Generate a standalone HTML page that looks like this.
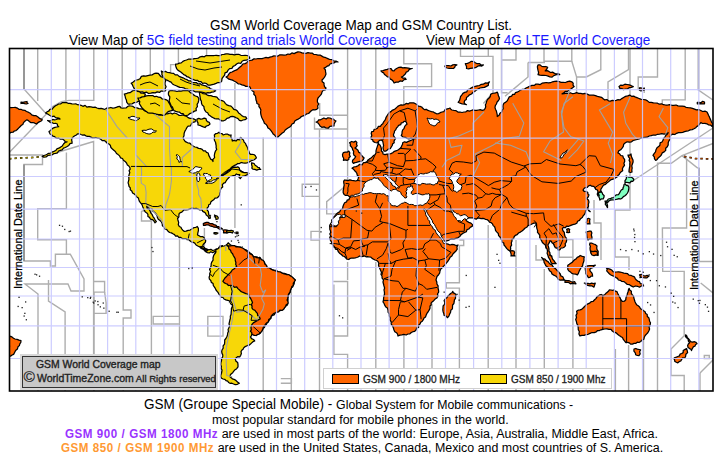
<!DOCTYPE html>
<html><head><meta charset="utf-8"><style>
html,body{margin:0;padding:0;background:#fff;}
body{width:725px;height:457px;position:relative;overflow:hidden;font-family:"Liberation Sans",sans-serif;}
.t{position:absolute;white-space:nowrap;font-size:13.5px;color:#000;line-height:15px;}
.b{color:#1a1aff;}
.hy{transform:scaleY(1.1);transform-origin:0 12px;}
.lg{position:absolute;background:#c8c8c8;border:1px solid #333;box-shadow:0 0 0 2px #d8d8d8;}
.lg2{position:absolute;background:#fff;border:1px solid #d0d0d0;}
.sw{position:absolute;border:1px solid #000;}
.s{position:absolute;white-space:nowrap;color:#222;line-height:12px;}
.dl{position:absolute;white-space:nowrap;font-size:11px;line-height:12px;color:#000;transform-origin:0 0;}
</style></head><body>
<svg width="725" height="457" viewBox="0 0 725 457" style="position:absolute;left:0;top:0">
<defs><clipPath id="mc"><rect x="9" y="48" width="704" height="343"/></clipPath></defs>
<g clip-path="url(#mc)">
<rect x="9" y="48" width="704" height="343" fill="#fff"/>
<g stroke="#AEAEAE" stroke-width="1.4" fill="none"><path d="M713,143.4 L682,155.6 L671.3,163.3 L657.5,163.3 L657.5,391"/><path d="M682,155.6 L697.3,167.9 L698.9,167.9 L698.9,261.5 L713,261.5"/><path d="M686.6,158.7 L686.6,228 L662.4,228 L662.7,271.4 L684.2,271.4 L684.2,335.8 L671,349 L671,375.5 L684.2,375.5 L684.2,391"/><path d="M700.7,283 L713,292.9"/><path d="M403.8,48 L403.8,63.7 L431.6,63.7 L431.6,86.6 L403.8,86.6 L403.8,106"/><path d="M460.5,48 L460.5,56.4 L488.3,56.4 L488.3,48"/><path d="M488.3,56.4 L493,56.4 L493,92.7 L483.4,103.5"/><path d="M501.5,48 L501.5,92.7 L507.6,92.7"/><path d="M516,48 L516,60 L501.5,60"/><path d="M528,62.5 L545,62.5 M528,62.5 L528,77 L505,96.3"/><path d="M544,48 L544,61.3 L571.8,61.3 L571.8,48"/><path d="M571.8,61.3 L576.6,77 L576.6,93.9"/><path d="M576.6,77 L586.3,77 L600.8,69.7 L600.8,48"/><path d="M628.5,48 L628.5,69.7 L608,81.8 L608,101"/><path d="M657.5,48 L657.5,77 L638.2,77 L638.2,89 L644.2,89 L644.2,93"/><path d="M685.2,48 L685.2,99.9 L662.3,99.9 L662.3,106"/><path d="M698.5,48 L698.5,90.2 L713,100"/><path d="M24,48 L24,89 L46.4,114 L9,152.7"/><path d="M9,155 L42.5,155 L42.5,164.5 L24,164.5 L24,261 L50.4,261 L50.4,266 L55.4,266 L55.4,254.2 L70.3,254.2 L84,279 L84,291 L71,291 L68,284 L25,284 L38,294 L38,391"/><path d="M37.7,48 L37.7,101"/><path d="M46.4,114 L52.6,106.6 L61.4,101.6 L68.9,100.4 L93.8,100.4 L93.8,48"/><path d="M65.9,48 L65.9,100.4"/><path d="M42,157 L93.6,141.5 L93.6,391"/><path d="M66.4,152.5 L66.4,208.6 L37.7,208.6 L37.7,239.8 L66.4,239.8 L66.4,254.2"/><path d="M48.5,280 L48.5,301.2 L65.1,311.9 L65.1,391"/><path d="M94,281.5 L104.6,281.5 L104.6,292.1 L94,292.1 L94,391"/><path d="M104.6,292.1 L106.1,302.8 L106.1,313.4 L94,313.4"/><path d="M178.9,316.4 L153.2,316.4 L153.2,324 L178.9,324"/><path d="M207.8,316.4 L223,316.4 L223,336.1 L207.8,336.1 Z"/><path d="M122.2,48 L122.2,107"/><path d="M123.2,160 L123.2,310 L131,310 L131,318 L123.2,318 L123.2,391"/><path d="M150.3,48 L150.3,75"/><path d="M178.4,48 L178.4,64.6 L170.6,64.6 L170.6,72"/><path d="M141.5,211 L151.4,211 L151.4,391"/><path d="M141.5,211 L141.5,221 L151.4,221"/><path d="M179.5,236 L179.5,391"/><path d="M204.4,228 L204.4,246"/><path d="M206.6,48 L206.6,55"/><path d="M234.9,48 L234.9,55"/><path d="M234.9,83 L234.9,228"/><path d="M263.2,137.4 L263.2,391"/><path d="M291.3,120.8 L291.3,391"/><path d="M319.7,102.9 L319.7,115.3 L347.6,115.3"/><path d="M314.5,117.5 L314.5,129 L347.6,129"/><path d="M347.6,48 L347.6,184.2 L326.7,201.7 L326.7,213.9 L338.9,213.9"/><path d="M319.5,129 L319.5,391"/><path d="M319.5,184.2 L302.2,184.2 L302.2,196.4 L319.5,196.4"/><path d="M319.5,231.4 L311,231.4 L311,240.1 L319.5,240.1"/><path d="M333.3,281.5 L347.6,281.5 L347.6,336 L333.9,336"/><path d="M333.9,284.6 L333.9,354.4 L347.6,354.4 L347.6,391"/><path d="M280.8,378.6 L291.4,378.6 L291.4,383.2 L280.8,383.2"/><path d="M347.6,262 L347.6,280"/><path d="M375.8,48 L375.8,128"/><path d="M375.8,262 L375.8,391"/><path d="M403.9,335 L403.9,391"/><path d="M432,303.5 L432,391"/><path d="M459.4,245.5 L459.4,282.7 L446.3,282.7 L446.3,288.1 L459.4,288.1 L459.4,391"/><path d="M459.4,240 L463.7,240 L463.7,245.5 L459.4,245.5"/><path d="M488.2,225 L488.2,391"/><path d="M516,240 L516,391"/><path d="M544.3,269 L544.3,391"/><path d="M536,245 L536,260 L544.2,260"/><path d="M559.1,228 L559.1,257.3 L572.9,257.3 L572.9,391"/><path d="M559.1,239.6 L572.9,239.6 L572.9,257.3"/><path d="M713,128 L626.6,185"/><path d="M594,200 L594,223 L601,223 L601,260"/><path d="M615,210 L630,210 L630,48"/><path d="M615,210 L615,257 L629,257 L629,270"/><path d="M615.4,349 L615.4,391"/><path d="M628.6,345 L628.6,391"/><path d="M643.5,330 L643.5,391"/><path d="M704.3,355.5 L709.3,355.5 L709.3,358.5 L704.3,358.5 Z"/><path d="M700,373 L713,360"/><path d="M700,373 L700,391"/></g>
<path d="M24,48 L24,89 M24,164.5 L24,261 M698.5,48 L698.5,90.2 M698.9,167.9 L698.9,261.5" stroke="#888" stroke-width="1.5" fill="none"/>
<g stroke="#000" stroke-width="1.25" stroke-linejoin="round"><path d="M45.6,112.9 L47.2,111.8 L49.0,110.9 L49.9,109.3 L52.0,109.4 L53.0,108.0 L54.2,106.8 L55.5,105.8 L57.0,105.0 L58.6,104.0 L60.5,103.9 L62.1,102.7 L64.0,102.6 L66.1,102.4 L68.0,103.3 L70.0,103.4 L72.0,103.9 L74.0,104.0 L75.8,103.8 L77.5,104.7 L79.3,104.8 L81.0,105.3 L82.9,106.3 L85.1,105.4 L86.9,107.1 L89.0,106.7 L91.0,106.9 L93.0,107.4 L95.1,107.2 L97.0,108.0 L98.9,108.7 L101.1,108.3 L103.0,108.9 L105.0,109.5 L106.7,108.1 L109.0,108.0 L110.8,107.5 L112.7,108.2 L114.5,107.9 L116.3,107.3 L118.0,106.7 L119.8,106.3 L121.1,108.0 L122.8,108.2 L124.5,108.0 L126.2,107.9 L127.6,106.5 L129.2,105.9 L131.0,106.0 L133.0,106.4 L134.8,107.7 L137.0,107.8 L138.9,108.6 L141.0,108.8 L142.7,109.1 L144.0,110.2 L145.4,111.2 L147.0,111.6 L148.6,112.3 L150.3,112.5 L152.0,112.2 L153.9,112.5 L155.3,114.1 L157.4,113.9 L159.0,115.0 L160.7,115.2 L162.2,114.6 L163.8,114.3 L165.4,113.5 L167.3,113.8 L169.0,113.4 L170.7,113.0 L172.3,114.0 L174.3,113.0 L176.0,113.5 L177.6,114.3 L179.2,115.4 L181.0,115.5 L182.9,114.8 L184.5,115.7 L186.5,116.2 L188.1,117.6 L190.0,118.4 L192.1,118.4 L194.1,119.2 L196.0,120.0 L194.9,121.8 L192.7,122.4 L191.4,124.0 L190.5,125.8 L188.1,126.2 L186.8,127.7 L185.9,129.5 L184.8,131.4 L184.1,133.5 L184.0,135.8 L183.1,137.8 L183.8,139.3 L184.6,140.8 L185.9,141.9 L187.7,142.8 L189.9,143.2 L191.4,144.7 L193.1,146.0 L195.0,147.0 L196.9,147.4 L198.5,148.4 L200.4,148.7 L202.2,149.4 L203.4,150.9 L205.4,150.8 L206.5,152.4 L208.2,153.0 L208.7,155.1 L209.7,157.1 L210.6,159.1 L212.2,159.9 L213.0,161.5 L212.9,159.4 L214.6,157.6 L214.3,155.5 L214.7,153.3 L215.4,151.2 L216.7,149.4 L216.1,147.7 L216.2,145.8 L215.8,144.0 L215.5,142.2 L214.5,140.5 L214.2,138.7 L214.6,136.8 L214.3,135.0 L215.6,133.7 L217.5,133.3 L219.0,132.2 L220.1,133.5 L222.1,133.6 L223.1,135.0 L224.6,134.5 L226.0,134.0 L227.7,134.2 L229.3,135.1 L231.1,135.0 L230.8,137.1 L232.0,139.0 L232.3,141.0 L234.0,140.3 L236.0,141.0 L237.6,139.4 L239.5,139.8 L239.9,138.5 L240.7,137.4 L242.0,138.8 L243.5,140.1 L244.1,142.1 L245.5,143.4 L246.3,145.4 L247.4,147.3 L247.9,149.4 L248.8,151.0 L249.3,152.8 L250.4,154.3 L252.1,154.4 L253.8,154.5 L255.2,155.5 L255.9,156.7 L256.4,157.9 L254.8,159.4 L252.8,160.2 L250.8,161.0 L248.9,162.2 L247.0,162.9 L245.0,163.2 L243.0,162.9 L241.2,162.5 L239.5,163.6 L237.7,163.5 L236.3,164.7 L234.6,165.3 L233.1,166.2 L231.8,167.1 L230.7,168.1 L229.8,169.4 L227.9,170.4 L226.6,172.1 L224.9,173.5 L222.9,174.5 L221.0,175.5 L222.0,176.2 L223.6,174.9 L225.5,173.9 L227.3,172.8 L229.0,171.5 L230.5,170.3 L231.3,168.4 L233.1,167.5 L234.6,167.1 L236.2,167.3 L237.7,166.8 L239.3,168.1 L239.7,170.1 L240.8,171.4 L242.3,172.1 L244.2,172.7 L246.2,172.7 L247.6,172.9 L248.9,173.4 L247.6,174.7 L246.1,175.2 L244.6,175.9 L243.0,176.0 L241.4,177.0 L240.3,178.6 L239.0,177.3 L239.3,176.0 L239.7,174.7 L238.0,174.7 L236.4,174.0 L235.1,175.3 L233.4,175.5 L231.8,176.0 L229.8,176.5 L228.5,178.0 L227.2,179.4 L226.1,181.0 L225.2,182.6 L223.7,183.2 L222.3,184.6 L222.7,186.9 L221.1,188.2 L220.4,189.9 L220.4,191.7 L219.7,193.2 L219.6,195.0 L218.7,196.5 L217.2,197.8 L215.0,198.2 L213.7,199.8 L212.2,200.8 L210.8,201.9 L210.4,204.0 L208.7,204.8 L208.5,206.6 L207.2,208.0 L207.1,209.8 L208.3,211.3 L208.6,213.0 L208.7,214.8 L210.1,216.2 L210.4,218.1 L209.0,218.5 L208.2,216.4 L206.3,215.1 L205.4,213.1 L204.2,212.1 L202.7,211.4 L202.1,209.8 L200.0,210.0 L198.1,209.1 L196.2,208.3 L194.1,208.7 L192.1,208.1 L190.1,208.8 L188.1,209.6 L186.0,210.0 L183.8,209.8 L182.6,211.4 L181.1,212.4 L179.3,213.2 L178.9,215.0 L178.9,216.9 L177.6,218.5 L178.0,220.5 L178.7,222.4 L178.3,224.6 L179.3,226.5 L180.9,227.3 L181.7,228.9 L182.8,230.2 L184.1,231.3 L186.1,231.1 L188.1,230.4 L190.1,230.1 L191.9,228.9 L193.7,227.7 L195.6,227.5 L197.3,226.5 L198.4,228.4 L198.4,230.6 L197.9,232.7 L197.5,234.9 L199.1,235.7 L200.6,236.7 L202.6,236.5 L204.1,237.7 L204.7,239.1 L205.7,240.3 L205.5,242.0 L204.4,243.3 L203.2,244.5 L202.7,246.2 L204.2,247.0 L205.2,248.5 L206.9,249.1 L208.7,249.8 L210.9,249.3 L212.6,250.5 L214.5,250.0 L216.2,248.9 L218.3,249.1 L219.0,247.3 L220.2,245.7 L221.4,246.2 L222.6,245.7 L221.3,247.3 L219.3,248.0 L217.8,249.3 L216.4,251.1 L214.2,251.7 L212.7,252.7 L210.8,251.8 L209.3,252.9 L207.4,252.6 L205.9,251.7 L204.5,250.5 L203.3,248.8 L201.1,248.3 L199.7,246.9 L197.8,246.0 L196.1,245.0 L194.9,243.3 L193.4,242.4 L191.6,242.1 L190.2,241.0 L188.9,239.7 L187.2,239.7 L185.8,238.5 L184.1,238.5 L182.3,238.5 L180.7,237.4 L178.9,237.4 L177.5,235.9 L175.6,236.1 L174.5,234.6 L172.9,233.8 L171.4,232.9 L169.6,232.5 L168.0,231.2 L166.8,229.6 L164.8,228.9 L164.0,227.1 L162.4,225.8 L162.2,223.7 L161.4,221.9 L160.0,220.5 L158.3,219.3 L157.4,217.5 L157.0,215.4 L155.9,213.8 L154.5,212.3 L152.8,211.0 L152.2,209.1 L150.2,208.5 L148.4,207.7 L146.7,206.4 L147.2,208.5 L149.2,209.5 L150.2,211.3 L150.9,213.2 L152.2,214.7 L153.0,216.6 L154.2,218.2 L155.2,220.0 L156.4,221.6 L155.0,222.9 L154.0,221.1 L152.7,219.7 L150.5,219.2 L149.5,217.4 L147.9,216.5 L147.9,214.3 L146.8,212.9 L145.3,211.9 L144.2,210.2 L143.4,208.3 L142.6,206.4 L142.0,204.6 L140.8,203.1 L139.6,201.7 L138.9,199.9 L138.4,198.1 L136.8,196.9 L135.7,195.3 L134.3,194.0 L132.6,192.9 L131.8,191.0 L130.2,189.8 L130.3,187.9 L129.0,186.4 L128.7,184.6 L128.1,182.9 L128.5,181.2 L128.9,179.5 L128.8,177.7 L128.8,176.0 L129.2,174.3 L129.8,172.6 L129.1,170.7 L130.2,169.1 L129.8,167.4 L128.8,166.0 L127.4,165.0 L126.5,163.0 L125.1,161.4 L123.4,160.3 L122.5,158.5 L120.5,157.8 L119.6,155.9 L118.1,154.6 L116.5,153.5 L115.5,151.7 L114.1,150.4 L112.4,149.0 L110.9,147.5 L110.3,145.2 L108.6,143.8 L106.9,143.0 L105.7,141.5 L104.1,140.5 L102.2,140.6 L100.8,139.3 L99.3,138.4 L97.5,138.2 L95.9,137.5 L94.2,137.9 L92.5,137.9 L90.9,137.1 L89.3,136.4 L87.5,136.3 L85.8,135.8 L84.3,134.9 L82.6,135.1 L81.0,134.5 L79.4,133.8 L77.7,133.8 L76.4,135.0 L74.8,135.8 L73.3,136.8 L72.1,138.2 L71.6,139.9 L72.0,141.5 L72.1,143.2 L70.0,143.7 L68.8,145.4 L67.1,146.5 L65.4,147.5 L63.5,148.2 L62.2,149.9 L60.4,150.4 L58.6,151.0 L57.4,152.8 L55.6,153.3 L53.7,153.7 L52.2,154.8 L50.0,155.1 L47.9,155.5 L46.1,156.9 L43.9,157.2 L42.2,156.4 L43.8,155.5 L45.5,155.0 L47.1,154.3 L48.6,153.3 L50.5,153.2 L52.1,152.1 L53.9,151.4 L55.7,150.5 L56.9,148.9 L58.8,148.2 L60.6,147.1 L62.3,145.9 L63.5,144.0 L65.0,142.5 L67.1,141.8 L65.2,141.5 L63.9,140.1 L62.4,139.1 L60.4,139.1 L58.8,138.2 L57.3,138.3 L55.9,137.8 L54.6,136.7 L53.0,136.2 L51.8,135.0 L50.3,134.3 L49.6,133.0 L49.0,131.6 L50.5,130.5 L51.7,129.2 L53.1,128.1 L54.9,127.4 L56.8,127.0 L58.7,126.7 L57.5,125.6 L57.3,124.0 L55.7,123.3 L53.8,123.5 L52.2,122.7 L50.4,122.6 L49.1,121.5 L47.6,120.5 L49.4,120.9 L51.1,120.6 L52.7,119.4 L54.5,119.8 L56.3,119.5 L58.1,118.6 L60.0,119.1 L58.8,118.1 L57.3,117.8 L55.5,117.7 L54.1,116.1 L52.0,116.6 L50.4,115.7 L48.8,114.8 L47.2,113.8Z" fill="#F7D708"/><path d="M175.6,64.2 L177.6,64.0 L179.3,63.1 L181.3,62.9 L182.9,61.4 L184.7,60.5 L186.5,60.0 L188.3,59.2 L190.4,59.2 L192.4,59.1 L194.4,58.7 L196.4,58.5 L198.4,58.1 L200.2,56.8 L202.2,56.3 L204.3,56.8 L206.1,55.5 L208.2,55.6 L210.2,55.5 L212.2,55.5 L214.2,55.5 L216.2,55.3 L218.2,55.7 L220.1,55.6 L222.1,54.5 L224.0,54.4 L226.0,53.8 L228.0,53.9 L230.0,54.3 L232.2,54.4 L234.3,54.8 L236.5,54.4 L238.7,54.3 L240.8,55.3 L243.0,55.5 L245.1,55.4 L247.3,55.5 L248.9,56.4 L249.8,58.0 L248.2,59.3 L246.3,60.2 L244.0,60.3 L242.1,61.2 L240.9,63.3 L238.4,63.0 L236.6,64.0 L235.0,65.5 L233.1,66.4 L231.9,68.3 L229.6,68.6 L228.1,70.1 L227.0,72.1 L225.0,72.9 L224.6,75.2 L223.2,76.9 L222.0,78.7 L221.7,81.1 L220.1,82.7 L218.0,82.5 L216.1,83.4 L214.2,84.2 L212.2,84.7 L210.2,85.2 L208.2,85.2 L206.6,83.6 L204.7,83.0 L202.5,83.4 L201.0,81.7 L199.0,81.7 L197.4,80.3 L195.3,80.3 L193.6,79.7 L191.8,79.0 L190.2,78.2 L188.7,77.2 L186.8,76.7 L185.5,75.3 L183.7,74.7 L182.5,73.4 L181.1,72.3 L179.6,71.3 L178.1,70.4 L177.0,69.1 L176.2,67.6 L175.7,65.9Z" fill="#F7D708"/><path d="M161.3,71.0 L163.2,72.0 L165.5,71.3 L167.4,72.5 L169.5,72.7 L171.5,73.1 L173.6,73.4 L175.2,74.9 L177.5,74.9 L179.1,76.4 L181.0,77.1 L183.0,77.8 L184.8,78.8 L186.8,79.5 L188.5,80.8 L190.6,80.8 L192.2,82.5 L194.2,82.7 L196.3,82.5 L198.0,84.0 L200.2,83.7 L201.9,84.9 L203.8,85.4 L205.8,85.8 L207.3,87.0 L209.2,87.3 L210.4,88.9 L212.3,89.4 L214.1,89.8 L215.7,90.7 L213.9,91.8 L211.8,92.1 L209.9,92.8 L207.8,92.7 L205.8,93.3 L203.8,92.5 L201.6,92.2 L199.4,92.0 L197.3,91.9 L195.1,91.8 L193.1,90.6 L190.9,90.7 L189.1,89.8 L187.3,89.2 L185.4,88.8 L183.7,87.8 L181.8,87.5 L179.8,87.4 L178.0,86.6 L176.2,85.8 L174.3,85.0 L172.5,84.0 L171.1,82.1 L169.2,81.3 L167.4,80.4 L165.4,79.5 L163.7,78.4 L163.1,76.6 L161.9,74.9 L161.9,72.9Z" fill="#F7D708"/><path d="M131.1,83.2 L132.9,82.3 L134.5,80.9 L136.4,80.0 L138.6,79.6 L140.3,78.4 L141.4,76.3 L143.5,75.8 L145.7,76.1 L147.8,75.6 L149.9,75.2 L152.0,74.9 L154.0,73.7 L156.1,73.2 L158.3,73.4 L159.6,75.0 L160.9,76.7 L163.2,77.4 L164.7,78.8 L165.7,80.8 L165.0,82.8 L165.1,84.7 L166.1,86.7 L165.2,88.6 L165.7,90.6 L163.6,91.3 L161.4,90.8 L159.5,92.4 L157.2,91.9 L155.2,92.9 L153.0,92.6 L150.9,93.2 L148.6,93.5 L146.7,92.2 L144.4,92.7 L142.4,91.8 L140.1,92.0 L138.1,91.1 L136.0,90.6 L134.6,89.4 L133.8,87.8 L133.0,86.2 L132.3,84.5Z" fill="#F7D708"/><path d="M124.3,94.1 L126.2,93.7 L128.0,92.9 L130.0,92.7 L131.7,91.4 L133.4,90.4 L135.4,90.3 L137.3,91.3 L139.4,91.6 L141.1,93.2 L143.4,93.2 L145.3,94.1 L144.9,96.0 L143.5,97.2 L141.7,98.2 L141.3,100.0 L140.3,101.5 L138.2,101.4 L136.2,102.5 L134.1,102.6 L132.2,103.8 L130.1,104.0 L128.0,104.0 L126.7,102.2 L126.4,100.1 L125.5,98.2 L125.1,96.0Z" fill="#F7D708"/><path d="M137.9,98.0 L140.1,97.9 L142.1,96.9 L144.2,96.6 L146.3,95.9 L148.4,95.7 L150.6,95.7 L152.8,95.5 L154.5,96.7 L156.6,96.3 L158.4,97.2 L160.4,97.3 L162.0,98.8 L163.9,99.1 L165.8,99.6 L167.6,100.5 L168.7,102.4 L169.9,104.3 L170.7,106.3 L171.9,108.1 L172.5,110.3 L170.7,110.8 L168.9,111.4 L167.3,112.3 L166.1,113.8 L164.7,115.1 L162.7,115.3 L160.7,114.5 L158.5,114.6 L156.4,114.2 L154.3,113.6 L152.2,113.1 L150.0,113.1 L147.9,112.8 L146.3,111.4 L144.5,110.2 L142.9,108.8 L141.5,107.2 L140.4,105.4 L139.3,103.7 L139.8,101.5 L138.6,99.8Z" fill="#F7D708"/><path d="M169.1,91.0 L171.1,90.3 L173.1,90.7 L175.0,90.9 L177.0,91.5 L179.0,90.9 L181.0,91.1 L183.0,90.6 L184.9,90.7 L186.9,90.4 L188.9,91.0 L190.3,92.6 L192.2,93.4 L193.6,94.9 L195.4,96.0 L197.5,96.6 L198.8,98.3 L198.7,100.4 L198.2,102.5 L197.1,104.4 L197.4,106.6 L196.0,108.5 L196.3,110.7 L194.5,111.1 L192.9,112.1 L191.3,113.1 L189.6,113.7 L188.2,115.0 L186.4,115.6 L184.4,115.5 L183.1,113.7 L181.1,113.6 L179.6,112.2 L177.7,111.8 L175.8,111.3 L174.0,110.7 L173.1,109.1 L172.6,107.3 L171.2,105.9 L170.5,104.2 L169.7,102.6 L169.1,100.8 L169.6,98.8 L169.8,96.9 L168.5,94.9 L168.4,93.0Z" fill="#F7D708"/><path d="M199.3,92.2 L201.3,92.5 L203.1,93.6 L205.1,93.8 L206.9,94.8 L208.8,95.6 L210.9,95.7 L212.8,96.3 L214.8,96.6 L216.9,97.2 L218.3,98.9 L220.0,100.1 L222.1,100.6 L224.0,101.5 L225.3,103.4 L226.8,104.9 L228.8,105.6 L231.0,106.1 L232.5,107.6 L233.8,109.3 L235.8,109.8 L237.4,111.1 L238.6,112.9 L240.2,114.1 L241.6,115.4 L243.3,116.6 L245.7,116.8 L246.8,118.6 L245.1,119.7 L243.1,120.0 L241.3,120.8 L239.4,120.3 L238.0,118.6 L236.2,117.8 L234.4,116.9 L232.5,116.4 L230.4,116.7 L228.8,117.9 L226.9,118.4 L225.4,120.0 L223.6,120.8 L221.7,120.9 L220.1,119.9 L218.5,118.8 L216.6,118.9 L214.8,118.6 L213.2,117.7 L211.5,116.9 L210.1,115.7 L208.6,114.7 L207.7,112.8 L206.0,112.0 L204.9,110.4 L204.1,108.5 L203.9,106.4 L202.2,105.1 L201.5,103.2 L201.4,101.3 L200.5,99.6 L200.2,97.7 L199.9,95.9 L199.6,94.0Z" fill="#F7D708"/><path d="M197.0,119.0 L198.8,118.3 L200.6,119.1 L202.4,118.8 L204.2,118.1 L206.0,118.6 L206.4,120.4 L207.4,121.7 L209.3,122.4 L210.0,124.0 L208.5,125.4 L206.4,126.0 L205.0,127.5 L203.3,126.9 L201.5,126.2 L199.9,125.3 L198.0,125.0 L198.0,122.9 L197.0,121.1Z" fill="#F7D708"/><path d="M251.5,162.9 L252.8,163.2 L254.1,163.5 L255.1,165.2 L256.7,166.2 L257.8,167.4 L259.4,167.5 L259.6,168.8 L260.7,169.4 L258.6,169.3 L256.7,170.1 L254.8,169.4 L252.8,169.1 L251.8,168.1 L252.2,166.8 L251.7,164.9Z" fill="#F7D708"/><path d="M216.0,249.7 L217.5,249.0 L218.9,248.0 L220.2,246.9 L222.0,246.3 L223.9,246.0 L225.7,245.5 L227.1,244.2 L228.4,242.8 L229.5,244.1 L230.8,245.2 L232.6,245.5 L234.3,246.4 L236.3,246.4 L238.1,246.9 L240.1,247.0 L241.5,248.5 L243.0,249.7 L245.0,249.7 L246.6,250.2 L248.0,251.0 L249.1,252.4 L250.8,253.5 L252.3,254.8 L253.3,256.6 L255.0,256.9 L256.8,256.8 L258.4,258.1 L260.2,257.9 L261.1,259.7 L262.5,261.1 L264.3,262.1 L265.2,264.0 L266.2,265.7 L267.1,267.6 L268.7,268.5 L270.6,268.8 L272.2,269.7 L274.0,270.3 L276.3,270.4 L278.1,271.8 L280.1,272.5 L282.2,273.1 L284.4,273.4 L286.5,274.0 L288.5,275.1 L290.5,275.9 L291.7,277.7 L293.2,279.2 L295.3,280.0 L294.3,281.7 L294.2,283.8 L293.3,285.5 L292.6,287.1 L290.9,288.2 L290.5,290.0 L290.2,292.2 L289.0,294.1 L288.2,296.1 L287.8,298.3 L288.1,300.1 L287.2,302.0 L287.8,303.8 L287.0,305.4 L285.1,306.1 L284.4,307.7 L283.6,309.3 L281.9,310.0 L280.1,310.6 L278.2,310.9 L276.7,312.1 L275.0,312.7 L274.4,314.7 L272.7,315.4 L271.2,316.2 L270.9,318.4 L269.4,319.9 L268.4,321.7 L267.1,322.9 L266.3,324.6 L265.0,325.8 L264.4,327.5 L262.9,328.6 L262.4,330.2 L261.3,331.5 L260.2,332.8 L259.0,334.0 L257.2,334.3 L256.0,335.5 L254.1,334.4 L251.9,334.1 L251.5,335.6 L250.5,336.9 L251.5,338.6 L253.5,339.5 L254.7,341.0 L253.0,341.7 L251.7,342.9 L250.5,344.1 L249.1,345.2 L247.1,345.7 L245.2,346.6 L243.6,347.9 L243.1,349.2 L242.0,350.0 L241.0,351.6 L241.4,353.6 L240.7,355.3 L239.7,356.8 L237.6,356.7 L236.2,357.7 L235.3,359.3 L236.0,361.2 L237.7,362.6 L238.0,364.7 L238.0,366.9 L236.7,368.7 L235.1,369.7 L233.8,371.2 L232.7,372.7 L231.4,373.7 L230.3,375.0 L230.0,376.7 L231.2,377.7 L232.4,378.8 L234.0,379.3 L235.4,380.1 L236.7,381.2 L237.9,382.4 L239.3,383.3 L237.4,384.3 L235.3,384.7 L233.6,384.0 L231.9,383.2 L230.0,383.3 L228.6,382.5 L227.7,381.1 L226.0,380.7 L224.9,379.4 L223.1,379.0 L221.6,378.2 L220.7,376.7 L220.8,375.0 L221.5,373.4 L221.8,371.7 L222.0,370.0 L221.1,368.4 L221.4,366.4 L220.7,364.7 L220.9,362.6 L221.5,360.7 L221.6,358.6 L222.7,356.7 L222.8,355.0 L222.0,353.4 L221.7,351.7 L222.0,350.0 L223.2,348.2 L223.1,345.9 L224.5,344.1 L224.7,342.0 L224.7,340.0 L225.9,338.5 L226.8,336.8 L227.5,335.0 L227.7,333.1 L228.4,331.4 L228.1,329.5 L228.9,327.7 L229.7,325.9 L229.0,324.0 L229.4,322.1 L229.8,320.3 L230.4,318.3 L230.3,316.2 L231.1,314.2 L231.2,312.1 L231.4,310.4 L231.4,308.5 L232.2,306.9 L232.6,305.2 L231.1,304.2 L230.2,302.7 L229.8,301.0 L227.8,300.4 L225.9,299.9 L224.0,299.0 L223.0,297.5 L221.0,297.2 L220.2,295.5 L219.0,294.3 L218.2,292.7 L217.1,291.3 L216.0,290.0 L215.3,288.4 L214.3,286.9 L213.3,285.5 L213.1,283.5 L211.3,282.4 L210.8,280.5 L209.4,279.1 L209.1,277.2 L209.8,275.3 L209.7,273.4 L210.6,271.5 L209.6,269.4 L210.5,267.6 L211.1,265.7 L211.2,263.7 L211.9,261.8 L213.1,260.1 L213.0,258.0 L213.4,256.3 L214.0,254.8 L215.1,253.4 L216.0,252.0 L215.7,250.8Z" fill="#F7D708"/><path d="M227.0,230.4 L229.2,230.6 L231.4,230.3 L233.5,231.0 L233.0,232.0 L232.5,233.0 L230.7,232.3 L228.8,232.4 L227.0,233.0 L226.7,231.7Z" fill="#F7D708"/><path d="M214.5,215.0 L215.7,215.7 L217.0,216.0 L218.2,217.3 L218.0,219.0 L216.0,219.5 L215.8,217.9 L215.1,216.5Z" fill="#F7D708"/><path d="M214.0,232.5 L216.0,232.6 L218.0,233.0 L217.0,233.9 L215.5,234.1 L214.0,233.7Z" fill="#F7D708"/><path d="M226.0,77.0 L227.7,76.0 L228.8,74.2 L230.1,72.7 L232.0,72.0 L233.7,71.1 L235.4,70.3 L237.2,69.6 L238.6,68.3 L240.0,67.0 L241.6,65.7 L242.8,64.0 L245.0,63.6 L246.8,62.7 L248.0,61.0 L250.0,60.5 L252.0,60.1 L253.9,58.9 L256.0,59.0 L258.0,58.5 L260.0,58.6 L262.1,58.7 L264.0,58.0 L266.0,57.4 L268.1,57.8 L270.0,57.1 L272.0,56.7 L273.9,55.9 L276.0,56.0 L278.0,56.0 L279.9,54.8 L282.0,54.9 L284.1,55.2 L286.1,54.9 L288.0,54.0 L290.1,54.3 L291.9,52.9 L294.1,53.6 L296.0,52.6 L297.9,51.8 L300.0,52.0 L301.9,52.8 L303.9,53.1 L305.9,53.3 L308.0,52.6 L310.0,53.0 L312.1,53.0 L313.9,54.4 L315.9,54.5 L317.9,55.2 L320.0,55.0 L321.9,56.1 L323.7,57.2 L325.9,57.7 L327.8,58.6 L329.8,59.5 L332.0,59.6 L333.8,61.0 L336.0,61.1 L338.0,62.0 L335.8,61.8 L334.0,62.9 L331.9,63.3 L330.0,64.0 L328.9,65.6 L327.1,66.2 L325.7,67.3 L324.0,68.0 L325.4,69.8 L325.6,71.9 L326.0,74.0 L325.3,75.7 L324.5,77.3 L323.3,78.7 L322.0,80.0 L322.3,81.8 L324.0,83.0 L324.1,84.9 L324.5,86.7 L326.0,88.0 L325.2,89.9 L323.1,90.4 L322.0,92.0 L321.5,93.8 L320.4,95.3 L319.2,96.7 L318.0,98.0 L317.4,100.0 L317.4,102.0 L318.6,104.0 L317.6,106.0 L318.0,108.0 L316.7,109.4 L314.9,109.8 L312.9,109.7 L311.3,110.7 L310.0,112.0 L308.6,113.5 L306.6,113.9 L305.1,115.1 L303.2,115.8 L301.4,116.5 L300.0,118.0 L298.3,119.1 L296.4,119.9 L294.8,121.1 L293.9,123.2 L292.0,124.0 L291.1,125.8 L289.7,127.0 L288.0,128.0 L286.5,129.1 L285.0,130.3 L284.0,132.0 L282.3,133.0 L280.9,134.3 L279.4,135.6 L278.0,137.0 L276.0,137.0 L274.8,135.3 L273.2,134.1 L272.2,132.3 L271.0,130.7 L269.7,129.1 L268.0,128.0 L267.3,126.2 L266.2,124.5 L264.4,123.3 L263.8,121.5 L262.9,119.7 L262.0,118.0 L261.3,116.1 L260.8,114.1 L260.6,112.0 L260.9,109.9 L260.0,108.0 L258.9,106.6 L259.0,104.5 L256.9,103.5 L256.7,101.7 L256.0,100.0 L255.8,97.9 L255.4,95.9 L253.8,94.2 L254.0,92.0 L252.2,90.7 L250.8,89.1 L250.0,87.0 L248.0,86.3 L245.8,86.4 L244.0,85.3 L241.9,84.9 L240.0,84.0 L238.2,83.8 L236.9,82.7 L235.5,81.8 L234.0,81.0 L232.5,80.1 L230.7,79.6 L228.9,79.2 L227.5,78.0Z" fill="#FF6600"/><path d="M316.0,122.0 L317.6,121.5 L318.7,119.8 L320.5,119.8 L322.0,119.0 L323.9,118.0 L326.1,119.0 L327.9,117.8 L330.0,118.0 L331.5,118.8 L333.3,119.0 L334.5,120.3 L336.0,121.0 L334.9,122.5 L334.1,124.1 L334.0,126.0 L331.9,126.1 L329.9,126.4 L328.2,128.2 L326.0,128.0 L324.1,126.9 L321.8,127.3 L320.0,126.0 L319.1,124.3 L317.9,122.8Z" fill="#FF6600"/><path d="M380.9,70.9 L383.1,70.6 L385.1,69.9 L387.3,69.4 L389.3,68.5 L391.2,68.7 L392.3,70.6 L394.1,70.9 L395.4,69.2 L397.1,68.2 L399.0,67.3 L400.9,67.1 L402.7,67.9 L404.7,67.7 L406.6,67.8 L408.4,68.2 L410.3,68.7 L412.2,68.5 L410.4,69.0 L408.9,69.9 L407.9,71.5 L406.2,72.1 L405.5,73.8 L404.2,75.0 L403.0,76.2 L401.4,77.0 L402.8,78.1 L404.9,78.0 L406.2,79.4 L404.1,79.6 L402.4,81.3 L400.1,80.9 L398.2,82.2 L396.1,82.2 L394.1,83.0 L393.2,81.3 L391.9,79.9 L390.0,78.9 L389.3,77.0 L387.4,76.8 L386.0,75.6 L384.5,74.6 L383.7,72.9 L382.1,72.2Z" fill="#FF6600"/><path d="M444.8,66.1 L446.8,65.5 L448.8,65.7 L450.9,66.0 L452.8,64.9 L454.8,64.5 L456.9,64.9 L455.3,65.7 L454.6,67.4 L453.3,68.5 L451.2,68.4 L449.1,68.4 L447.0,68.0 L445.6,67.3Z" fill="#FF6600"/><path d="M465.3,63.7 L467.5,63.4 L469.5,62.5 L471.4,61.3 L473.5,61.5 L475.3,62.8 L477.2,63.7 L479.4,63.6 L481.2,65.0 L483.4,64.9 L481.8,66.1 L479.6,65.6 L477.8,66.2 L476.2,67.3 L474.3,67.9 L472.4,68.1 L470.4,68.4 L468.5,68.8 L466.5,68.5 L466.6,66.8 L466.0,65.2Z" fill="#FF6600"/><path d="M458.1,102.3 L459.4,100.7 L460.1,98.8 L460.5,96.7 L461.7,95.1 L462.9,93.4 L464.7,92.4 L466.8,91.8 L467.7,89.7 L469.8,89.1 L471.4,87.8 L473.3,86.9 L475.3,86.3 L477.3,85.8 L479.4,85.5 L481.3,84.3 L483.4,84.2 L485.2,82.9 L487.7,83.1 L489.5,81.8 L488.5,83.5 L488.3,85.4 L486.4,86.4 L484.4,87.4 L482.2,87.7 L480.0,88.0 L478.1,89.0 L476.2,90.2 L474.6,91.5 L472.8,92.5 L471.5,94.0 L469.5,94.8 L468.1,96.3 L466.5,97.5 L466.3,99.4 L464.7,100.6 L464.1,102.3 L464.9,103.9 L466.5,104.7 L464.4,104.1 L462.2,104.0 L460.1,103.2Z" fill="#FF6600"/><path d="M538.0,64.9 L540.1,64.9 L541.8,66.4 L543.7,66.7 L545.8,66.5 L547.7,67.3 L546.7,69.3 L545.2,70.9 L547.1,70.6 L548.9,71.4 L550.6,72.5 L552.5,72.1 L554.2,73.1 L555.9,74.0 L558.1,73.4 L559.7,74.6 L557.6,74.5 L555.7,75.0 L553.8,75.6 L552.1,77.1 L550.0,77.0 L548.1,76.1 L546.1,75.5 L544.1,75.4 L542.0,75.4 L540.0,75.2 L538.0,74.6 L538.6,72.7 L538.1,70.7 L537.7,68.8 L537.4,66.8Z" fill="#FF6600"/><path d="M618.9,86.6 L620.6,85.1 L623.0,85.3 L624.9,84.2 L627.1,84.5 L629.3,84.9 L631.3,85.7 L633.3,86.6 L631.3,87.5 L629.1,87.7 L627.3,89.0 L625.5,89.0 L623.6,89.6 L621.8,88.5 L620.0,89.0 L619.7,87.7Z" fill="#FF6600"/><path d="M639.4,87.8 L641.0,87.9 L642.6,88.5 L644.2,88.0 L644.3,89.1 L644.2,90.2 L642.6,90.4 L641.0,90.9 L639.4,90.2 L639.7,89.0Z" fill="#FF6600"/><path d="M697.3,102.3 L699.1,102.4 L700.9,102.8 L702.7,101.3 L704.5,102.0 L704.5,103.8 L702.7,103.9 L700.9,103.9 L699.1,103.9 L697.3,103.8Z" fill="#FF6600"/><path d="M349.6,142.7 L351.5,141.5 L353.8,142.1 L355.7,141.1 L356.9,142.4 L356.5,144.2 L357.2,145.7 L356.2,147.0 L354.9,148.0 L356.5,149.1 L358.0,150.3 L358.6,152.1 L360.4,153.1 L361.1,154.9 L362.6,156.5 L364.1,158.0 L363.2,159.8 L361.8,161.1 L359.9,161.3 L358.0,161.8 L356.4,162.3 L354.9,162.6 L353.4,163.4 L352.4,162.0 L352.6,160.3 L353.8,159.2 L354.9,157.9 L355.7,156.5 L354.0,155.3 L353.4,153.4 L353.7,151.4 L352.6,149.6 L352.3,148.0 L351.4,146.8 L350.3,145.7 L350.4,144.1Z" fill="#FF6600"/><path d="M343.4,152.6 L345.2,152.1 L347.2,152.2 L348.8,151.1 L349.8,152.8 L349.4,154.8 L350.3,156.5 L348.9,157.7 L348.8,159.5 L347.1,160.4 L345.2,159.8 L343.4,160.3 L343.7,158.3 L342.7,156.5 L342.5,154.5Z" fill="#FF6600"/><path d="M350.5,197.0 L348.9,196.3 L347.5,195.1 L345.6,195.4 L344.1,194.4 L343.2,192.7 L343.2,190.7 L343.6,188.8 L343.8,186.9 L344.2,185.0 L343.8,183.0 L343.7,181.1 L344.6,180.0 L346.0,180.1 L347.9,180.6 L349.9,179.8 L351.8,180.3 L353.7,180.6 L355.7,181.0 L357.6,180.3 L358.2,178.4 L358.7,176.5 L357.3,175.3 L356.9,173.5 L356.0,172.0 L354.7,170.7 L353.6,169.3 L352.0,168.3 L353.8,167.0 L356.0,166.6 L358.0,165.7 L359.7,164.3 L362.1,164.8 L363.5,162.7 L365.7,162.6 L367.1,161.5 L368.0,159.9 L369.5,158.9 L371.0,158.0 L372.2,156.9 L373.4,155.6 L375.0,154.9 L376.0,153.0 L376.0,150.9 L376.5,148.9 L377.2,146.9 L377.9,144.8 L378.6,142.8 L378.7,144.3 L380.0,145.0 L380.9,146.9 L381.4,148.9 L381.4,151.0 L382.8,152.2 L383.0,154.0 L385.0,154.7 L387.0,154.1 L389.0,154.0 L390.9,153.6 L392.7,152.7 L394.4,151.3 L396.5,150.7 L398.4,149.8 L400.0,148.6 L401.3,147.0 L401.8,145.6 L402.6,144.2 L402.7,142.7 L404.5,141.8 L406.6,142.4 L408.4,141.3 L410.2,140.7 L411.9,140.0 L413.6,139.3 L415.2,138.3 L417.0,137.7 L415.1,138.6 L413.0,138.5 L411.0,138.1 L409.0,138.9 L407.0,138.4 L405.2,137.3 L403.0,137.0 L401.3,135.6 L402.0,133.8 L402.1,131.8 L402.7,129.9 L404.0,128.6 L404.6,126.8 L405.5,125.3 L407.0,124.2 L406.5,122.7 L405.6,121.4 L404.0,121.4 L402.9,122.7 L401.3,122.8 L400.7,124.7 L398.6,125.3 L397.6,126.8 L396.4,128.2 L395.6,129.9 L394.5,131.1 L394.3,132.8 L393.5,134.2 L393.6,135.9 L394.5,137.2 L395.6,138.4 L394.8,139.7 L394.0,141.1 L394.2,142.7 L392.7,143.8 L392.2,145.5 L391.3,147.0 L390.3,148.6 L388.4,149.0 L387.0,150.2 L385.6,151.2 L384.2,151.2 L383.5,150.0 L383.0,147.8 L383.6,145.6 L383.2,143.5 L382.8,141.3 L381.4,140.0 L379.6,140.4 L378.4,141.5 L377.2,142.8 L375.0,142.5 L373.1,141.4 L372.7,139.9 L371.1,138.9 L371.0,137.2 L371.8,135.4 L371.2,133.5 L371.7,131.7 L373.5,131.4 L374.1,129.3 L375.9,129.0 L377.5,128.2 L378.3,126.4 L380.4,126.3 L381.4,124.8 L382.8,123.7 L383.5,122.1 L384.6,120.7 L385.5,119.3 L386.1,117.3 L387.2,115.5 L388.3,113.8 L389.4,112.4 L391.0,111.6 L392.1,110.3 L393.8,109.7 L395.3,108.8 L396.5,107.6 L397.8,106.4 L399.3,105.5 L401.0,104.8 L402.9,105.1 L404.7,104.6 L406.2,103.4 L408.1,103.9 L409.8,102.8 L411.7,102.8 L413.7,102.9 L415.5,103.7 L417.2,104.8 L418.3,106.1 L420.1,106.4 L421.7,107.0 L422.8,108.3 L424.3,109.6 L426.4,109.3 L427.9,110.4 L429.7,111.0 L431.5,111.6 L433.4,111.9 L434.9,112.9 L436.6,113.8 L438.5,113.6 L440.2,112.7 L442.0,112.0 L443.8,111.7 L444.9,109.8 L446.5,109.1 L448.4,108.7 L450.0,108.0 L450.8,109.2 L452.0,110.0 L454.0,110.4 L456.1,110.7 L457.9,112.0 L460.0,112.0 L462.0,112.5 L464.0,112.0 L465.9,111.8 L467.5,110.6 L469.5,111.1 L471.2,110.5 L473.0,109.9 L474.8,110.3 L476.7,110.3 L478.5,110.0 L480.3,109.7 L482.2,110.4 L484.0,109.9 L485.2,108.4 L485.7,106.8 L485.4,104.8 L486.2,103.2 L486.7,101.2 L487.5,99.5 L489.1,98.0 L490.3,96.5 L490.6,94.4 L492.2,93.5 L493.9,93.2 L495.6,92.8 L497.3,92.2 L498.0,93.8 L498.3,95.5 L499.1,97.1 L499.5,98.8 L498.5,100.5 L497.1,102.0 L496.4,104.0 L495.3,105.6 L495.0,107.7 L495.6,109.4 L496.4,111.1 L496.8,112.9 L497.2,114.6 L497.3,116.5 L499.1,115.3 L499.9,113.2 L501.7,112.0 L502.2,110.3 L503.2,108.6 L502.9,106.7 L503.1,104.9 L503.9,103.2 L505.8,102.1 L507.3,100.8 L508.3,98.8 L509.3,96.9 L511.6,96.2 L512.7,94.4 L514.5,94.3 L515.5,92.7 L517.1,92.2 L518.8,91.2 L520.5,90.1 L522.3,89.3 L524.4,89.2 L526.0,88.0 L528.0,87.1 L529.9,86.1 L531.9,85.4 L534.2,85.4 L536.0,84.0 L538.0,84.2 L540.2,84.6 L542.1,83.2 L544.2,82.8 L546.2,82.5 L548.4,82.9 L550.5,82.7 L552.5,81.8 L554.6,81.3 L556.8,81.2 L558.9,81.5 L561.1,82.3 L563.2,82.3 L565.4,82.5 L567.5,81.7 L569.7,81.1 L571.8,81.8 L573.2,83.1 L573.0,85.2 L574.2,86.6 L572.6,87.8 L571.0,89.1 L569.2,90.0 L567.6,91.3 L565.2,91.3 L563.9,92.9 L562.1,93.9 L564.2,93.7 L566.2,93.1 L568.3,93.4 L570.4,92.8 L572.5,93.7 L574.6,93.4 L576.6,92.7 L578.7,93.3 L580.8,93.4 L582.9,93.9 L585.1,93.3 L587.2,94.0 L589.2,95.1 L591.3,95.2 L593.5,95.1 L595.5,95.6 L597.4,96.4 L599.5,96.8 L601.5,97.3 L603.2,98.7 L604.8,99.9 L606.9,99.5 L608.5,100.9 L610.4,101.1 L612.3,100.4 L614.2,100.6 L616.2,100.4 L618.0,99.7 L620.0,99.9 L621.8,98.6 L623.6,97.5 L625.5,96.4 L627.7,95.9 L629.7,95.1 L631.5,96.3 L633.7,96.1 L635.6,97.2 L637.5,97.8 L639.4,98.7 L641.4,99.3 L643.5,99.5 L645.6,99.8 L647.5,100.9 L649.2,102.4 L651.4,102.3 L653.4,102.8 L655.4,103.0 L657.5,103.2 L659.4,104.2 L661.6,103.8 L663.5,104.7 L665.6,105.0 L667.6,105.0 L669.8,104.6 L671.8,105.4 L673.9,105.3 L676.0,105.0 L678.0,105.9 L680.1,106.2 L682.2,106.1 L684.3,106.3 L686.2,107.5 L688.3,107.7 L690.5,107.8 L692.5,108.3 L694.5,109.1 L696.5,109.9 L698.8,109.7 L700.8,110.5 L702.7,111.5 L705.0,111.1 L707.0,112.0 L707.8,113.6 L708.5,115.3 L709.4,116.9 L710.0,118.6 L710.9,120.4 L711.6,122.4 L713.0,124.0 L712.4,125.5 L713.0,127.0 L711.8,126.2 L710.8,125.2 L708.7,125.0 L706.9,123.8 L704.9,123.4 L702.7,123.5 L700.8,122.7 L699.6,124.0 L698.6,125.5 L697.0,126.4 L695.8,127.7 L694.0,128.7 L692.2,129.6 L690.2,129.9 L688.4,130.8 L686.5,131.1 L684.6,131.7 L682.7,132.3 L680.7,132.7 L678.5,132.6 L676.6,133.3 L674.8,134.5 L672.6,134.1 L670.7,135.2 L670.1,137.1 L670.1,139.2 L668.9,140.9 L668.2,142.8 L668.2,144.9 L667.3,146.7 L665.7,148.3 L665.7,150.4 L664.2,151.9 L662.2,152.9 L661.3,155.0 L659.9,156.6 L658.2,157.9 L657.2,159.4 L655.7,160.4 L654.5,158.9 L654.3,156.9 L653.0,155.4 L654.1,153.6 L655.5,151.9 L656.0,149.7 L657.0,147.8 L658.6,146.6 L659.9,145.2 L660.1,142.9 L662.0,142.0 L663.0,140.3 L663.5,138.4 L664.9,137.1 L665.7,135.4 L667.3,134.3 L668.2,132.7 L666.2,133.7 L664.1,134.1 L661.8,133.6 L659.7,134.1 L657.5,134.3 L655.5,135.2 L653.3,135.0 L651.3,135.7 L649.2,136.0 L647.2,137.2 L645.1,137.3 L643.0,137.7 L641.0,138.2 L639.1,139.0 L637.1,139.5 L635.2,140.0 L633.2,140.5 L631.5,141.8 L629.5,142.2 L627.2,141.8 L625.4,142.8 L623.7,144.2 L623.3,146.4 L622.1,148.2 L620.7,149.8 L618.7,150.9 L617.9,152.9 L619.6,153.8 L620.8,155.5 L622.8,155.9 L623.4,157.8 L624.6,159.4 L624.7,161.5 L623.9,163.3 L624.5,165.3 L623.2,167.0 L622.4,168.8 L622.7,170.8 L621.2,171.7 L620.0,172.9 L619.2,174.5 L617.9,175.6 L616.7,177.3 L614.9,178.3 L613.1,179.2 L611.3,179.6 L609.9,180.6 L608.5,181.8 L607.1,182.8 L605.5,184.4 L603.5,185.2 L602.3,187.0 L601.1,188.8 L600.6,190.1 L601.1,191.3 L601.1,192.9 L600.0,194.0 L598.6,194.6 L598.0,196.0 L597.2,194.1 L598.0,192.0 L597.5,190.0 L595.7,189.3 L595.0,187.6 L593.6,186.3 L591.7,186.2 L590.2,185.2 L588.6,185.9 L587.3,187.4 L585.4,187.6 L584.0,188.6 L583.0,190.0 L584.3,191.5 L586.3,191.4 L587.8,192.5 L587.9,193.9 L589.0,194.9 L588.2,197.0 L586.6,198.5 L588.4,199.9 L589.0,202.1 L588.4,204.1 L588.5,206.2 L587.8,208.1 L588.7,210.1 L590.2,211.7 L588.7,210.7 L587.9,209.2 L587.4,207.5 L586.8,209.3 L585.7,210.8 L585.2,212.7 L584.5,214.4 L583.2,215.8 L582.2,217.6 L580.6,218.7 L579.5,220.4 L577.6,221.3 L576.8,223.2 L574.9,224.1 L572.8,224.6 L570.8,225.4 L568.8,226.3 L566.6,226.2 L565.5,227.5 L563.7,227.5 L562.4,228.3 L562.8,230.5 L564.3,232.3 L564.5,234.5 L565.1,236.6 L566.5,238.4 L566.6,240.7 L566.1,242.3 L565.1,243.7 L565.5,245.6 L564.5,247.0 L563.0,247.8 L561.1,248.0 L560.0,249.6 L558.3,250.1 L557.4,248.4 L555.3,247.6 L554.3,245.9 L553.6,244.0 L552.0,242.8 L551.4,241.4 L550.0,240.7 L549.6,242.2 L548.7,243.6 L547.9,244.9 L548.5,246.9 L549.0,249.0 L548.9,251.1 L549.9,252.6 L550.0,254.5 L551.1,255.9 L552.0,257.4 L552.6,259.2 L554.0,260.6 L554.9,262.2 L556.2,263.6 L554.1,263.5 L552.0,263.6 L550.8,262.1 L550.3,260.3 L549.3,258.7 L548.4,257.1 L547.9,255.3 L547.1,253.3 L547.5,251.0 L547.0,248.9 L545.8,247.0 L545.3,245.0 L543.8,243.8 L542.4,242.5 L541.6,240.7 L540.6,239.1 L539.7,237.5 L539.8,235.4 L538.8,233.8 L537.5,232.4 L537.6,230.5 L536.9,228.6 L536.6,226.8 L536.6,224.8 L536.0,223.0 L533.8,223.1 L531.9,224.0 L530.0,225.0 L528.0,225.7 L526.7,227.3 L524.9,228.2 L523.5,229.7 L522.0,231.0 L520.4,232.1 L518.5,233.0 L517.2,234.7 L515.3,235.4 L514.0,237.0 L513.7,238.5 L512.0,239.3 L512.0,241.0 L511.3,242.9 L511.6,245.1 L510.5,246.9 L510.7,249.1 L510.0,251.0 L508.1,249.9 L506.6,248.4 L505.4,246.6 L504.0,245.0 L503.8,243.1 L502.0,242.0 L501.7,240.2 L500.7,238.6 L500.0,237.0 L498.6,235.6 L498.3,233.5 L496.9,232.1 L495.6,230.6 L495.2,228.6 L494.6,226.8 L493.2,225.6 L492.5,223.9 L491.2,222.7 L489.5,222.2 L488.6,220.8 L487.3,219.7 L485.7,219.5 L484.3,218.7 L482.7,218.3 L481.0,218.6 L479.4,218.2 L477.7,218.1 L476.2,219.2 L474.5,218.7 L472.6,217.8 L470.6,217.8 L468.6,217.7 L467.2,218.8 L465.6,219.7 L467.0,221.3 L468.8,222.4 L470.9,223.1 L472.5,224.6 L472.6,225.9 L471.5,226.6 L470.0,227.6 L468.8,229.0 L467.0,229.7 L466.3,231.7 L464.6,232.5 L462.7,233.4 L461.0,234.8 L459.7,236.5 L457.9,237.8 L455.8,238.4 L453.9,239.1 L451.8,238.9 L449.9,239.4 L448.4,240.4 L446.6,240.8 L444.9,241.4 L444.0,243.0 L446.0,243.7 L448.1,244.2 L450.0,245.0 L452.0,244.4 L454.0,244.7 L456.0,245.5 L458.0,245.0 L456.9,246.9 L457.2,249.2 L456.0,251.0 L454.4,252.5 L452.9,254.0 L451.9,255.9 L450.1,257.2 L449.2,259.2 L448.0,261.0 L446.7,262.7 L445.4,264.4 L443.9,265.9 L442.5,267.5 L440.8,268.9 L440.0,271.0 L439.7,273.0 L438.6,274.7 L437.1,276.2 L436.5,278.1 L436.0,280.0 L436.8,281.9 L436.9,284.0 L438.1,285.8 L438.0,288.0 L438.5,290.0 L438.7,292.0 L437.5,294.0 L438.0,296.0 L436.9,297.9 L435.1,299.1 L433.7,300.7 L432.0,302.0 L431.1,303.2 L431.2,305.0 L430.0,306.0 L430.0,308.2 L429.1,310.2 L428.0,312.0 L426.9,313.4 L426.2,315.1 L425.5,316.9 L424.0,318.0 L423.3,319.7 L422.3,321.2 L420.7,322.3 L420.0,324.0 L418.7,325.3 L418.6,327.4 L416.6,328.2 L416.0,330.0 L414.7,331.3 L412.9,331.7 L411.3,332.5 L409.9,333.8 L408.0,334.0 L406.1,335.0 L403.9,334.4 L401.9,334.9 L399.9,335.2 L398.0,336.0 L397.6,334.1 L396.5,332.7 L394.8,331.7 L394.0,330.0 L393.4,327.9 L392.6,325.9 L391.2,324.2 L391.2,321.9 L390.0,320.0 L390.2,317.9 L389.3,316.0 L389.2,313.9 L388.1,312.1 L388.0,310.0 L387.4,308.1 L385.8,306.9 L384.8,305.4 L384.1,303.5 L383.0,302.0 L383.5,300.0 L383.6,298.0 L384.0,296.0 L384.5,294.0 L384.4,292.0 L384.0,290.0 L384.6,288.0 L384.0,286.0 L383.5,284.0 L383.0,282.0 L383.5,279.9 L382.1,278.1 L382.0,276.0 L381.0,274.4 L381.5,272.4 L380.8,270.7 L380.0,269.0 L379.1,267.0 L378.5,265.2 L378.8,263.2 L378.0,261.4 L376.7,260.4 L375.0,260.0 L373.6,259.2 L372.1,258.4 L370.9,257.1 L369.1,257.0 L367.6,256.6 L366.0,256.8 L364.7,255.9 L363.1,256.3 L361.4,256.7 L359.6,256.0 L358.1,257.0 L356.7,257.5 L355.2,257.9 L353.7,258.1 L352.0,258.0 L350.3,258.3 L348.8,259.5 L347.0,259.2 L345.7,257.9 L344.5,256.5 L342.7,256.0 L341.3,254.4 L339.5,253.2 L338.2,251.5 L337.6,249.7 L335.5,249.2 L334.9,247.4 L333.8,246.0 L332.3,244.4 L331.7,242.3 L330.5,240.5 L330.0,238.9 L329.8,237.3 L330.7,235.8 L329.8,233.9 L330.8,232.4 L330.4,230.8 L329.8,229.2 L329.8,227.5 L329.7,225.4 L330.8,223.5 L331.9,222.1 L332.3,220.3 L332.8,218.6 L333.9,216.8 L335.4,215.4 L336.7,213.7 L338.2,212.6 L339.7,211.7 L340.7,209.8 L342.6,208.8 L342.9,206.7 L343.6,204.8 L344.6,202.8 L346.6,201.9 L347.1,200.2 L349.0,199.6 L349.5,198.0Z" fill="#FF6600"/><path d="M376.5,183.5 L377.8,183.9 L379.0,183.5 L379.3,184.8 L379.0,186.0 L377.8,186.7 L376.5,186.0 L377.1,184.8Z" fill="#FF6600"/><path d="M376.5,187.0 L377.8,186.4 L379.0,187.0 L379.4,189.0 L379.0,191.0 L377.8,190.5 L376.5,191.0 L376.6,189.0Z" fill="#FF6600"/><path d="M385.0,192.5 L386.8,192.2 L388.7,192.6 L390.5,192.0 L389.2,192.9 L389.0,194.5 L387.2,194.4 L385.5,194.5Z" fill="#FF6600"/><path d="M411.0,198.5 L413.1,199.0 L414.9,197.5 L417.0,198.0 L416.0,199.5 L414.3,199.5 L412.7,199.2 L411.0,199.5Z" fill="#FF6600"/><path d="M452.8,291.4 L453.5,292.9 L455.0,293.6 L456.1,294.7 L455.5,296.4 L455.5,298.3 L454.4,299.9 L454.2,301.7 L453.9,303.5 L452.6,305.0 L452.5,307.0 L452.4,308.9 L450.8,310.3 L450.6,312.2 L449.6,314.1 L448.9,316.1 L447.4,317.7 L446.1,316.0 L444.1,315.5 L443.8,313.6 L443.1,311.7 L442.8,309.8 L443.0,307.8 L443.1,306.0 L444.5,304.4 L444.8,302.6 L444.1,300.6 L445.2,299.0 L446.8,297.8 L447.9,296.0 L449.5,294.7 L450.5,293.5 L452.0,292.8Z" fill="#FF6600"/><path d="M510.0,251.0 L512.0,250.7 L514.0,251.0 L514.6,252.6 L514.0,254.5 L515.0,256.0 L513.0,255.6 L511.0,256.0 L511.2,254.2 L510.7,252.6Z" fill="#FF6600"/><path d="M628.0,155.0 L629.7,155.2 L631.0,154.0 L631.3,156.1 L632.0,158.1 L633.0,160.0 L633.1,162.0 L632.4,164.0 L631.8,165.9 L632.2,168.0 L631.8,170.0 L632.0,172.0 L630.5,172.5 L629.0,172.0 L629.1,170.0 L629.4,168.0 L629.9,166.0 L629.8,164.0 L630.0,162.0 L629.1,160.4 L629.7,158.3 L628.5,156.8Z" fill="#FF6600"/><path d="M566.6,229.3 L568.2,228.7 L569.7,229.3 L569.2,230.9 L569.7,232.4 L568.2,232.6 L566.6,232.4 L567.3,230.9Z" fill="#FF6600"/><path d="M587.0,219.0 L588.5,218.3 L590.0,219.0 L589.6,220.7 L589.7,222.3 L590.0,224.0 L588.5,223.7 L587.0,224.0 L586.3,222.3 L587.0,220.7Z" fill="#FF6600"/><path d="M586.0,232.0 L587.7,231.7 L589.3,231.0 L591.0,231.0 L591.9,232.9 L591.3,235.0 L591.9,237.0 L592.0,239.0 L589.8,238.8 L588.0,240.0 L587.1,238.1 L586.8,236.0 L586.7,233.9Z" fill="#FF6600"/><path d="M590.0,243.0 L592.0,243.2 L593.7,244.0 L595.5,244.7 L597.0,246.0 L596.7,247.9 L597.0,249.6 L598.2,251.3 L598.1,253.2 L598.0,255.0 L596.0,254.4 L593.9,255.0 L592.0,254.0 L590.7,252.2 L590.2,250.1 L590.0,248.0 L590.4,246.3 L589.6,244.7Z" fill="#FF6600"/><path d="M541.6,257.4 L543.0,258.7 L545.0,259.0 L546.2,260.6 L547.9,261.5 L549.0,262.9 L550.2,264.2 L552.0,264.9 L552.9,266.5 L554.1,267.8 L555.9,269.1 L557.4,270.7 L558.9,272.3 L560.3,274.0 L560.8,275.9 L562.8,276.8 L563.6,278.6 L564.5,280.2 L562.4,279.8 L560.3,280.2 L558.3,279.5 L557.2,277.4 L555.7,276.0 L553.8,275.1 L552.0,274.0 L551.3,272.0 L549.5,270.7 L548.6,268.8 L547.6,266.9 L545.8,265.7 L545.0,264.0 L544.1,262.4 L543.9,260.4 L542.7,258.9Z" fill="#FF6600"/><path d="M565.0,280.3 L566.9,280.6 L568.9,280.7 L570.8,281.5 L572.7,282.1 L574.7,281.7 L575.3,282.8 L576.0,283.8 L574.2,283.6 L572.3,283.3 L570.4,283.8 L568.7,282.4 L566.9,282.3 L565.0,282.4Z" fill="#FF6600"/><path d="M567.8,265.2 L569.3,264.3 L570.7,263.3 L572.2,262.4 L573.3,261.0 L574.6,259.8 L576.1,258.9 L577.2,257.4 L578.9,256.7 L580.2,255.5 L582.2,256.4 L584.3,256.9 L583.9,258.6 L584.0,260.4 L583.6,262.1 L582.9,263.8 L582.6,265.9 L581.2,267.5 L580.2,269.3 L579.2,271.1 L578.5,273.1 L577.4,274.8 L575.6,274.1 L573.7,274.0 L571.9,273.4 L570.5,272.1 L568.9,271.0 L567.8,269.3 L567.8,267.2Z" fill="#FF6600"/><path d="M585.7,266.6 L587.6,265.9 L589.5,265.6 L591.4,265.7 L593.4,265.7 L595.3,265.2 L593.9,266.2 L592.8,267.6 L591.1,268.2 L589.8,269.3 L590.2,271.1 L591.6,272.6 L592.4,274.3 L592.6,276.2 L591.0,276.1 L589.9,277.4 L588.4,277.6 L587.6,276.2 L586.6,274.8 L585.7,273.4 L585.7,271.7 L585.4,270.0 L585.2,268.3Z" fill="#FF6600"/><path d="M584.3,283.1 L586.1,283.4 L588.0,283.4 L589.8,283.8 L591.6,283.1 L593.5,283.6 L595.3,283.1 L594.6,285.1 L594.0,287.2 L592.1,285.9 L589.8,285.9 L587.7,285.4 L586.0,284.3Z" fill="#FF6600"/><path d="M591.0,251.0 L593.0,251.6 L595.0,251.2 L597.0,251.5 L597.4,253.5 L598.0,255.5 L596.0,254.8 L594.0,255.6 L592.0,255.0 L590.9,253.2Z" fill="#FF6600"/><path d="M639.5,274.8 L641.5,274.3 L643.3,275.5 L645.1,276.2 L647.1,275.4 L649.0,276.0 L648.0,276.9 L647.0,277.8 L645.2,277.9 L643.5,277.7 L641.8,277.2 L640.0,277.6 L640.3,276.1Z" fill="#FF6600"/><path d="M606.4,267.9 L608.4,268.7 L610.5,269.3 L611.9,270.2 L613.0,271.7 L614.7,272.1 L616.5,272.0 L618.4,271.8 L620.2,272.1 L622.0,272.5 L623.8,273.2 L625.7,273.4 L627.6,273.7 L629.0,275.1 L630.9,275.3 L632.6,276.2 L634.4,276.8 L635.2,278.6 L636.4,280.0 L637.7,281.1 L639.5,281.7 L640.3,283.6 L642.7,284.0 L643.6,285.9 L641.3,285.9 L639.5,287.2 L637.5,286.3 L635.4,286.0 L633.2,287.0 L631.2,285.9 L629.5,284.7 L627.3,284.4 L625.7,283.1 L624.1,281.6 L621.9,281.5 L620.2,280.3 L618.4,280.0 L617.5,278.4 L616.0,277.6 L614.3,276.4 L612.4,275.7 L610.5,274.8 L609.1,273.5 L607.8,272.1 L606.7,270.9 L607.2,269.2Z" fill="#FF6600"/><path d="M576.6,311.3 L577.1,313.4 L576.0,315.4 L576.5,317.5 L575.7,319.5 L576.4,321.5 L576.8,323.6 L577.9,325.5 L578.2,327.7 L578.3,329.8 L579.4,331.7 L578.9,334.0 L579.9,335.9 L581.9,335.3 L584.1,335.4 L586.0,334.6 L588.1,334.3 L590.1,333.4 L592.0,332.5 L594.3,332.6 L596.3,331.8 L597.7,330.5 L599.5,330.5 L601.1,329.8 L602.8,329.3 L604.8,329.0 L606.9,328.9 L609.0,329.3 L611.0,329.3 L612.3,331.0 L614.0,332.2 L616.1,332.8 L617.6,334.3 L619.2,335.5 L620.8,336.6 L622.5,337.5 L623.3,339.4 L624.5,340.9 L625.8,342.5 L627.6,342.3 L629.2,342.8 L630.6,344.1 L632.4,344.1 L634.0,343.4 L635.7,343.4 L637.2,342.2 L639.0,342.5 L640.7,341.5 L642.1,340.0 L643.9,339.2 L644.3,337.2 L645.2,335.5 L646.5,334.1 L647.8,332.7 L648.8,331.0 L649.6,329.0 L649.0,326.8 L650.1,324.9 L650.5,322.8 L649.6,321.3 L649.3,319.5 L648.8,317.8 L647.3,316.5 L647.2,314.6 L645.7,313.6 L645.1,311.7 L643.6,310.7 L642.2,309.6 L640.5,308.7 L639.6,307.0 L638.2,305.8 L636.6,304.8 L635.7,303.1 L634.9,301.5 L634.4,299.8 L633.9,298.1 L633.6,296.3 L632.4,294.9 L631.3,293.4 L631.4,291.3 L629.7,290.0 L629.1,288.3 L628.4,289.9 L628.2,291.6 L627.5,293.2 L627.1,294.9 L626.4,296.4 L625.9,298.1 L625.8,299.8 L624.4,301.2 L622.5,301.4 L620.9,300.1 L620.3,298.2 L619.3,296.6 L618.5,294.9 L617.6,293.2 L617.0,291.6 L615.2,291.2 L614.3,289.9 L612.7,290.3 L611.0,290.0 L609.4,289.9 L608.4,291.3 L607.0,292.5 L605.7,293.6 L604.5,294.9 L602.9,295.5 L601.2,294.5 L599.6,294.9 L598.2,296.0 L596.8,297.1 L595.9,298.6 L594.6,299.8 L593.2,301.3 L591.1,301.7 L589.7,303.1 L587.7,303.9 L586.0,305.1 L584.6,306.5 L583.1,308.0 L581.7,309.3 L580.0,309.9 L578.1,310.2Z" fill="#FF6600"/><path d="M634.0,349.0 L635.7,348.5 L637.3,349.1 L639.0,349.5 L640.6,349.9 L639.6,351.7 L640.2,353.9 L639.0,355.6 L637.3,355.5 L635.7,354.8 L635.3,352.8 L633.9,351.1Z" fill="#FF6600"/><path d="M685.6,334.8 L686.8,336.0 L687.3,337.7 L688.6,338.8 L689.6,340.2 L690.6,341.7 L692.5,342.1 L694.5,341.7 L696.0,342.4 L697.0,343.7 L695.6,344.5 L695.0,346.1 L693.5,346.7 L692.3,348.6 L691.5,350.6 L690.9,349.3 L689.6,348.6 L688.1,347.5 L687.6,345.7 L688.3,344.0 L689.6,342.7 L688.4,341.2 L688.1,339.1 L686.6,337.8 L685.5,336.5Z" fill="#FF6600"/><path d="M686.6,348.6 L687.2,350.6 L687.6,352.6 L685.9,354.2 L685.6,356.5 L684.7,358.0 L682.6,357.9 L681.7,359.4 L680.8,361.0 L679.1,361.7 L677.8,362.9 L676.3,362.2 L674.8,361.4 L674.6,359.9 L673.8,358.5 L675.0,357.5 L676.4,357.1 L677.8,356.5 L679.4,355.9 L680.1,354.1 L681.7,353.5 L683.2,352.6 L683.2,350.5 L684.7,349.6Z" fill="#FF6600"/><path d="M9.0,336.0 L10.7,336.3 L12.2,337.1 L13.5,338.3 L15.0,339.0 L17.1,339.3 L19.0,340.1 L21.0,340.7 L20.8,342.5 L19.8,343.9 L19.4,345.6 L18.0,346.8 L17.4,349.0 L15.6,350.5 L14.6,352.5 L13.6,354.4 L12.1,355.0 L10.8,356.1 L9.0,356.0 L9.4,354.0 L8.4,352.0 L9.3,350.0 L8.9,348.0 L9.6,346.0 L8.4,344.0 L8.8,342.0 L8.3,340.0 L9.7,338.0Z" fill="#FF6600"/><path d="M9.0,107.4 L11.1,107.7 L13.2,107.5 L15.3,107.4 L17.3,108.1 L18.9,109.3 L21.0,109.3 L22.8,110.2 L24.8,110.3 L26.5,111.5 L28.3,112.2 L30.2,113.2 L31.7,114.9 L33.8,115.7 L36.1,115.7 L38.0,117.0 L39.2,118.1 L40.5,118.9 L42.1,119.1 L41.9,120.5 L40.7,121.2 L39.2,121.9 L37.8,122.8 L36.6,124.0 L34.8,123.2 L33.0,122.5 L31.0,122.6 L29.6,121.7 L28.4,120.6 L26.9,119.8 L25.5,120.7 L24.2,121.9 L23.3,123.1 L22.8,124.5 L21.4,125.3 L20.0,126.7 L18.6,128.1 L17.3,129.5 L16.0,130.6 L14.3,131.0 L13.1,132.2 L10.9,132.4 L9.0,133.6 L9.0,131.4 L8.8,129.2 L9.0,127.0 L9.4,124.9 L8.7,122.7 L9.5,120.5 L9.2,118.3 L9.3,116.1 L9.1,114.0 L8.4,111.8 L9.2,109.6Z" fill="#FF6600"/><path d="M21.0,102.0 L23.0,102.4 L25.0,101.9 L27.0,101.5 L27.0,102.7 L28.0,103.5 L26.2,104.0 L24.5,103.6 L22.8,103.2 L21.0,103.5Z" fill="#FF6600"/><path d="M227.0,245.5 L228.9,245.9 L230.7,245.8 L232.6,245.5 L234.5,245.6 L236.1,246.9 L238.1,246.9 L240.0,247.2 L241.8,247.7 L243.5,248.5 L245.0,249.7 L246.3,250.7 L247.5,251.8 L249.1,252.4 L250.3,254.0 L252.3,254.8 L253.3,256.6 L255.1,256.8 L256.7,257.7 L258.4,257.8 L260.2,257.9 L261.3,259.6 L263.3,260.3 L264.3,262.1 L264.8,264.1 L266.6,265.5 L267.1,267.6 L269.1,267.6 L270.6,268.9 L272.2,269.8 L274.0,270.3 L276.0,271.2 L278.1,271.7 L280.3,271.9 L282.2,273.1 L284.2,273.9 L286.4,274.5 L288.7,274.5 L290.5,275.9 L292.3,277.0 L293.8,278.5 L295.3,280.0 L294.3,281.7 L293.3,283.4 L293.3,285.5 L291.8,286.6 L291.3,288.4 L290.5,290.0 L290.0,292.1 L288.6,294.0 L288.0,296.1 L287.8,298.3 L287.1,300.1 L288.2,302.0 L287.8,303.8 L286.2,304.7 L285.6,306.5 L284.5,307.8 L283.6,309.3 L282.0,310.4 L279.9,310.1 L278.6,311.9 L276.7,312.1 L275.2,312.9 L273.6,313.6 L272.3,314.8 L271.2,316.2 L270.6,318.2 L268.7,319.5 L268.4,321.7 L266.9,322.8 L265.6,324.0 L264.7,325.6 L263.5,326.8 L262.9,328.6 L262.4,330.2 L261.5,331.6 L260.2,332.8 L259.0,334.0 L257.4,334.6 L256.0,335.5 L253.8,335.3 L251.9,334.1 L251.7,332.5 L250.5,331.4 L251.3,329.8 L251.0,327.9 L251.2,326.2 L251.9,324.5 L253.3,322.9 L255.0,321.9 L256.7,320.9 L258.4,319.9 L260.2,319.0 L259.5,317.0 L257.7,315.6 L257.4,313.4 L256.1,312.0 L255.0,310.3 L253.0,309.5 L251.9,307.9 L252.1,306.2 L251.5,304.4 L252.5,302.7 L251.9,301.0 L251.0,299.2 L249.9,297.4 L249.1,295.5 L247.8,294.0 L245.9,293.6 L244.2,292.9 L242.5,292.2 L240.8,291.4 L239.5,290.0 L237.9,288.6 L236.7,286.9 L234.5,287.3 L232.6,285.7 L230.6,285.3 L228.4,285.5 L227.3,284.1 L225.6,283.5 L224.1,282.6 L222.9,281.4 L224.0,279.5 L225.2,277.7 L226.8,276.2 L228.2,274.6 L229.8,273.1 L231.2,271.7 L232.2,270.0 L234.0,269.0 L235.3,267.6 L236.7,266.2 L235.7,264.5 L235.9,262.5 L235.3,260.7 L235.2,258.8 L234.3,257.1 L233.3,255.5 L232.6,253.8 L231.2,252.4 L230.6,250.3 L228.9,249.0 L228.6,246.9Z" fill="#FF6600"/><path d="M223.0,230.0 L225.0,229.8 L227.0,230.2 L226.6,231.6 L227.0,233.0 L225.3,232.6 L223.5,232.8 L223.7,231.3Z" fill="#FF6600"/><path d="M236.0,232.0 L238.0,232.0 L238.0,233.5 L236.0,233.5Z" fill="#FF6600"/><path d="M625.0,183.6 L626.3,185.3 L628.3,185.8 L628.9,187.6 L628.7,189.5 L628.3,191.3 L627.5,193.0 L626.4,194.5 L625.0,195.7 L623.4,196.6 L622.2,198.0 L620.7,199.0 L619.0,198.6 L617.4,199.2 L615.7,199.5 L614.1,200.0 L612.1,199.8 L610.3,200.2 L608.6,201.1 L607.8,202.3 L606.4,202.2 L607.1,203.8 L607.5,205.5 L607.5,207.7 L606.6,205.9 L605.3,204.4 L605.5,202.7 L605.0,201.0 L607.0,200.8 L608.3,199.0 L610.2,198.7 L611.9,197.9 L613.8,197.6 L615.0,195.8 L616.5,194.8 L618.5,194.6 L619.5,193.2 L620.3,191.5 L621.3,190.0 L622.9,189.1 L623.1,187.6 L623.8,186.2 L624.0,184.7Z" fill="#80FFC0"/><path d="M626.1,176.0 L627.5,176.5 L628.9,177.2 L630.5,177.0 L632.3,177.8 L633.8,179.2 L633.5,180.4 L632.7,181.4 L631.1,181.2 L629.9,182.8 L628.3,182.5 L626.6,182.4 L625.0,182.5 L625.0,180.7 L626.1,179.2 L626.5,177.6Z" fill="#80FFC0"/><path d="M598.8,192.4 L600.4,191.8 L602.0,192.4 L602.7,194.3 L604.2,195.7 L603.9,197.4 L603.1,199.0 L601.3,198.9 L599.9,200.0 L599.5,198.3 L598.8,196.8 L599.2,195.3 L598.4,193.9Z" fill="#80FFC0"/><path d="M203.3,223.6 L204.8,222.9 L206.3,222.4 L208.0,222.4 L209.9,223.5 L212.1,223.5 L214.0,224.6 L215.6,225.0 L216.9,226.3 L218.6,226.6 L220.0,227.5 L221.3,228.1 L222.5,229.0 L221.1,228.7 L220.0,229.6 L218.2,228.3 L216.3,227.3 L214.0,227.2 L212.0,226.3 L209.9,225.8 L208.0,224.8 L206.5,224.9 L205.0,225.3 L203.5,225.4Z" fill="#D04000"/><path d="M201.0,246.5 L202.4,248.1 L204.5,248.5 L206.2,249.2 L207.5,250.5 L206.0,251.5 L204.8,250.1 L203.2,249.1 L201.5,248.5Z" fill="#D04000"/></g>
<g stroke="#A0A0A0" stroke-width="1.1" fill="none" stroke-linejoin="round"><path d="M141.4,167.0 L141.6,174.1 L141.0,178.8 L141.4,183.4 L145.1,185.6 L146.1,192.3 L145.9,198.7 L145.7,203.6"/><path d="M171.4,167.0 L171.4,174.4 L171.4,181.1 L170.5,187.8 L169.5,194.4 L165.8,205.1 L165.0,210.0"/><path d="M193.0,169.4 L196.8,176.5 L196.8,184.0 L198.6,190.1 L198.6,194.4 L200.9,198.7 L201.5,207.2 L200.5,209.2"/><path d="M147.0,167.0 L135.8,154.9 L135.8,138.2"/><path d="M127.3,138.2 L117.0,126.6 L105.7,109.2"/><path d="M169.5,138.2 L169.5,149.2 L170.7,167.0"/><path d="M182.3,167.0 L182.3,157.5 L193.9,146.8"/><path d="M169.5,138.2 L169.5,126.6 L154.5,114.1"/><path d="M253.8,159.5 L241.2,159.5 L235.2,151.8 L240.9,142.4 L239.9,137.4"/><path d="M145.7,203.6 L153.6,211.3 L161.1,219.4 L165.8,229.3"/><path d="M233.7,311.2 L232.4,319.6 L229.6,332.0 L226.4,347.2 L226.2,360.9 L226.8,375.5 L232.2,376.7"/><path d="M484.0,112.0 L473.0,123.0 L473.0,129.7 L457.5,136.4 L448.7,138.6 L451.0,147.4 L462.0,145.2 L459.7,154.0 L446.5,160.6 L442.0,167.3"/><path d="M512.7,103.2 L523.8,123.1 L519.3,136.4 L503.9,138.6 L492.8,145.2 L475.2,154.0 L479.6,162.8 L473.0,176.0"/><path d="M495.0,143.0 L510.5,145.2 L526.0,151.8 L530.4,162.8"/><path d="M570.0,90.0 L561.3,112.0 L563.5,132.0 L550.2,140.8 L543.6,151.8 L561.3,160.6"/><path d="M579.0,138.6 L565.7,154.0"/><path d="M572.9,96.8 L564.0,103.5 L561.8,114.5 L564.0,127.7 L570.7,136.6 L583.9,141.0 L577.3,149.8 L568.5,158.6"/><path d="M610.4,103.5 L599.4,110.0 L606.0,121.1 L612.6,132.1 L608.2,143.2 L612.6,154.2 L610.4,163.0"/><path d="M630.3,96.8 L623.6,112.3 L625.8,123.3 L632.5,134.4 L636.9,138.8"/><path d="M663.4,107.9 L659.0,116.7 L667.8,127.7 L665.6,134.4"/><path d="M249.1,258.0 L254.7,263.4 L260.2,267.6 L261.6,274.5 L260.2,285.5 L262.9,292.4 L265.7,290.0 L261.6,298.3 L264.3,303.8 L262.9,309.3 L257.4,319.0"/><path d="M225.7,245.5 L225.7,251.0"/><path d="M231.2,274.5 L232.6,286.9 L231.2,303.0"/><path d="M232.6,290.0 L232.6,298.3 L236.7,312.1 L246.4,310.7 L250.5,314.8 L257.4,320.3"/></g>
<g stroke="#000" stroke-width="1.0" fill="none" stroke-linejoin="round"><path d="M131.0,166.4 L187.0,166.6 L190.0,168.0"/><path d="M190.0,66.0 L198.0,69.0 L205.0,70.0 L214.0,68.0 L222.0,67.0"/><path d="M196.0,61.0 L210.0,63.0 L230.0,60.0"/><path d="M180.0,79.0 L186.0,82.0 L192.0,84.0 L200.0,86.0"/><path d="M140.0,85.0 L145.0,83.0 L150.0,82.0 L158.0,86.0"/><path d="M150.0,104.0 L155.0,103.0 L160.0,106.0"/><path d="M213.0,104.0 L222.0,109.0 L230.0,112.0"/><path d="M176.0,98.0 L182.0,103.0 L190.0,104.0"/><path d="M219.0,177.0 L225.3,171.6 L232.0,169.0 L240.0,170.0 L244.0,172.5"/><path d="M602.8,294.9 L602.8,329.3"/><path d="M602.8,318.7 L626.6,318.7"/><path d="M620.9,299.0 L620.9,318.7"/><path d="M626.6,318.7 L626.6,326.0 L650.5,326.0"/><path d="M626.6,326.0 L626.6,343.3"/><path d="M141.2,203.6 L145.7,203.6 L152.7,206.5 L157.9,206.5 L161.1,205.5 L164.9,210.3 L170.5,209.6 L174.2,214.3 L178.6,217.6"/><path d="M212.9,265.2 L217.4,266.9 L219.7,267.7 L223.0,271.8 L229.6,275.4"/><path d="M210.3,273.9 L212.7,276.7 L214.6,272.8 L219.7,267.7"/><path d="M230.5,285.8 L232.1,291.2 L231.1,296.9 L230.5,300.8 L228.9,302.4"/><path d="M230.5,300.8 L232.4,303.7 L233.0,308.6 L233.7,311.2 L238.1,309.8 L243.1,310.2 L244.1,306.1 L250.1,304.3 L251.8,305.9"/><path d="M243.1,310.2 L252.1,315.6 L251.0,320.3 L256.8,320.3"/><path d="M253.6,256.2 L254.9,263.7"/><path d="M259.6,256.7 L258.7,263.4"/><path d="M248.4,251.4 L247.4,258.1 L243.7,260.0 L239.0,264.7"/><path d="M260.8,333.5 L252.9,326.2"/><path d="M189.3,233.6 L187.9,240.0"/><path d="M197.1,242.9 L204.8,239.0"/><path d="M200.1,246.7 L203.9,246.9"/><path d="M205.4,249.3 L205.4,252.0"/><path d="M215.7,251.1 L214.8,253.9"/><path d="M357.6,180.4 L366.8,182.2"/><path d="M365.7,162.0 L372.4,164.3 L376.4,167.0 L375.3,170.3 L372.4,173.7 L373.6,176.2 L375.1,179.3"/><path d="M377.1,152.3 L379.6,152.3"/><path d="M387.7,154.4 L389.0,162.3 L383.7,163.8 L386.9,167.9 L385.4,170.3 L379.0,170.6 L375.3,170.3"/><path d="M389.0,162.3 L392.9,163.8 L397.6,165.7 L403.4,166.7 L405.3,160.8 L405.1,154.7 L403.6,153.4 L397.8,153.4"/><path d="M400.4,148.4 L410.9,149.2 L405.1,154.7"/><path d="M406.6,145.2 L412.6,145.2 L413.6,139.6"/><path d="M413.9,149.2 L421.1,157.0 L420.7,159.3 L425.8,158.8 L432.7,163.8 L436.1,167.0 L432.7,171.3"/><path d="M405.3,160.8 L413.2,160.5 L420.7,159.3"/><path d="M410.9,168.4 L413.9,175.3"/><path d="M405.1,168.9 L399.1,173.9 L403.2,176.9 L408.9,179.5 L414.7,179.3"/><path d="M405.1,168.9 L410.9,169.6"/><path d="M393.3,167.9 L402.5,168.6"/><path d="M399.1,173.9 L396.5,174.4 L391.8,173.0 L392.5,170.1 L393.3,167.9 L389.2,167.0 L386.9,167.9"/><path d="M391.8,173.0 L386.9,172.7 L380.7,171.5 L380.5,173.0 L374.1,174.4"/><path d="M386.5,175.3 L390.1,176.0 L396.7,176.2 L395.7,182.0"/><path d="M403.2,176.9 L403.2,182.7 L404.0,184.9 L410.4,184.0 L413.6,183.4"/><path d="M398.5,188.7 L400.4,185.6 L404.0,184.9"/><path d="M410.6,185.8 L410.4,184.0"/><path d="M382.4,141.0 L384.5,135.4 L383.5,128.1 L387.3,123.6 L393.8,114.1 L399.5,110.9 L404.2,112.5 L406.0,120.5 L406.4,121.1"/><path d="M399.5,110.9 L407.9,108.2 L415.1,110.9 L418.2,108.2"/><path d="M415.1,110.9 L416.4,118.9 L417.3,126.6 L415.4,134.0 L413.2,136.8"/><path d="M345.6,183.4 L349.2,183.8 L347.9,187.8 L347.9,191.8 L347.1,194.0"/><path d="M367.4,161.0 L372.3,161.0 L374.5,156.0"/><path d="M453.0,173.0 L449.2,169.4 L452.0,163.3 L455.8,161.5 L463.3,162.0 L471.7,163.3 L476.4,160.8 L476.1,155.7 L483.9,152.1 L494.3,153.1 L499.0,155.7 L511.2,162.0 L523.9,166.0"/><path d="M523.9,166.0 L529.9,163.8 L541.2,163.3 L546.4,159.5 L560.0,164.0 L575.9,165.7 L580.0,164.5 L589.1,155.7 L595.6,156.2 L600.3,165.7 L614.0,169.4 L611.0,175.8 L606.1,182.0"/><path d="M523.9,166.0 L525.8,167.0 L531.4,175.3 L541.9,181.8 L558.1,183.4 L571.2,181.1 L575.9,176.5 L585.9,172.2 L585.7,170.1 L582.1,165.7 L580.0,164.5"/><path d="M525.8,167.0 L517.2,171.8 L515.7,176.0 L511.2,176.5 L511.7,181.1 L511.5,181.5 L508.3,184.5 L504.6,186.7 L499.3,189.4 L501.8,194.4 L507.0,197.7 L509.3,204.0 L513.0,208.2 L526.2,213.3 L533.7,213.7 L543.6,212.9 L544.6,220.4 L551.0,226.4 L559.0,223.8 L563.7,226.2"/><path d="M511.5,181.5 L500.5,180.6 L494.3,182.2 L488.4,185.6 L484.9,183.4 L470.8,175.3 L466.1,176.7 L465.2,182.9 L460.1,184.9"/><path d="M465.9,184.9 L473.6,183.6 L477.9,186.7 L482.6,190.7 L485.8,193.8"/><path d="M462.2,193.8 L468.6,193.1 L475.9,195.1 L478.3,198.1 L482.1,197.4 L485.8,193.8 L488.6,194.4 L492.4,193.3 L496.1,194.4 L501.8,194.4"/><path d="M491.5,187.8 L496.1,189.0 L499.3,189.4"/><path d="M501.8,194.4 L495.2,197.7 L492.4,201.1 L491.1,206.1 L485.4,209.6 L475.3,210.5"/><path d="M478.3,198.1 L474.6,200.9 L476.8,206.1 L475.3,209.4 L475.3,210.5 L479.6,215.4 L476.6,219.0"/><path d="M507.0,197.7 L501.8,204.0 L499.9,209.2 L492.4,215.4 L490.1,220.8"/><path d="M511.3,212.1 L526.2,216.4 L526.2,213.3"/><path d="M526.2,215.4 L528.1,219.0 L528.1,225.4"/><path d="M534.1,220.4 L536.5,223.4 L534.2,227.3"/><path d="M548.9,228.7 L544.0,233.2 L546.4,237.1 L545.9,248.6"/><path d="M548.9,228.7 L552.5,234.2 L556.2,232.8 L559.0,240.4 L553.4,242.9 L554.0,245.2"/><path d="M553.4,224.4 L557.1,230.3 L562.8,237.1 L562.8,240.0 L560.0,246.7 L557.1,247.6"/><path d="M549.1,255.2 L552.5,256.2"/><path d="M606.1,182.2 L599.4,184.5 L594.3,188.1"/><path d="M598.4,192.9 L601.8,191.2"/><path d="M428.8,194.9 L436.1,194.9 L440.4,194.2 L445.1,193.8 L444.3,189.2 L442.6,185.2 L438.9,184.5"/><path d="M436.1,180.2 L447.3,183.4 L452.2,183.6"/><path d="M442.6,185.2 L448.3,185.6 L451.1,190.1 L452.8,191.4"/><path d="M440.4,194.2 L438.0,199.8 L433.8,202.1 L430.1,204.4 L427.8,203.0"/><path d="M445.1,193.8 L447.0,197.7 L447.3,201.9 L450.3,205.1 L451.1,209.2"/><path d="M433.8,202.1 L434.8,204.6 L439.8,207.2 L444.9,211.1 L448.3,211.1 L451.8,212.3"/><path d="M426.7,210.3 L434.8,204.6"/><path d="M441.3,236.3 L443.6,234.4 L458.6,231.3 L464.2,231.3 L464.6,224.0 L457.9,221.4"/><path d="M458.6,231.3 L460.7,235.9"/><path d="M407.9,205.9 L407.9,225.4 L430.3,225.4"/><path d="M382.6,202.8 L379.8,208.8 L381.6,216.4 L379.8,221.4 L383.3,222.4 L389.2,223.4 L406.0,230.3 L407.9,229.3"/><path d="M356.9,198.5 L358.7,205.1 L344.7,210.3 L344.7,213.9 L344.7,217.4 L338.5,217.4 L338.5,222.4 L336.6,226.7 L329.1,226.7"/><path d="M377.1,194.4 L375.3,201.9 L379.8,208.8"/><path d="M344.7,214.7 L352.0,219.4 L360.8,225.8 L367.0,230.3 L371.9,231.1 L375.1,227.3 L383.3,222.4"/><path d="M352.0,219.4 L350.7,238.1 L343.2,238.1 L338.1,240.0 L330.4,236.1"/><path d="M368.9,231.1 L367.6,238.1 L361.0,239.0 L359.3,240.4 L353.5,240.9 L350.7,246.7 L345.4,248.0 L339.4,244.4 L338.1,240.0"/><path d="M389.2,223.4 L391.0,239.0 L387.3,241.9 L372.3,241.9 L367.8,244.8 L363.3,245.7 L361.9,242.9 L361.0,239.0"/><path d="M406.0,230.3 L405.9,237.7 L402.9,242.9 L403.8,247.6 L401.4,249.5 L392.0,253.3 L390.1,252.4 L389.5,248.6 L388.2,242.9"/><path d="M405.1,249.5 L411.7,248.6 L417.3,249.5 L422.9,248.6 L424.8,243.8 L429.5,240.9 L433.5,233.2"/><path d="M429.5,240.0 L436.1,240.0 L440.6,243.8 L441.5,246.7 L450.9,252.4 L445.5,258.3 L439.6,260.0 L428.6,258.8 L426.7,256.2 L422.9,251.4 L425.4,248.6"/><path d="M439.6,260.0 L438.9,270.7"/><path d="M428.6,258.8 L424.8,260.0 L426.3,265.6 L424.8,269.4 L434.6,276.4"/><path d="M424.8,260.0 L418.8,260.9 L412.6,257.7 L407.9,258.1 L405.1,249.5"/><path d="M412.4,258.1 L403.2,259.2 L395.7,260.9 L391.4,263.4 L389.2,260.0 L388.2,253.3"/><path d="M395.7,260.9 L392.0,269.4 L391.0,276.0 L384.1,278.8 L392.0,280.7 L398.5,281.3 L402.9,288.3 L406.0,288.3 L415.4,291.2 L418.6,283.6"/><path d="M418.8,260.9 L416.4,269.4 L416.0,276.0 L418.6,283.6 L422.9,285.5 L426.7,289.3 L437.0,287.4"/><path d="M383.1,300.4 L400.4,300.6 L404.7,301.8 L418.1,297.1 L422.9,294.1"/><path d="M418.1,297.1 L422.8,297.9 L420.1,309.6 L421.1,319.2"/><path d="M406.0,288.3 L402.3,292.1 L400.4,300.6"/><path d="M404.7,301.8 L400.4,301.8 L398.5,309.6 L398.5,315.0 L392.0,322.7"/><path d="M398.5,315.0 L407.9,316.6 L415.8,310.2 L420.1,309.6"/><path d="M408.5,301.8 L415.8,310.2"/><path d="M345.0,253.3 L345.6,248.6 L351.6,247.6 L355.7,249.5 L360.6,246.7 L363.3,256.0"/><path d="M360.6,246.7 L364.8,246.5"/><path d="M367.8,244.8 L366.1,255.4"/><path d="M388.2,242.9 L386.3,248.6 L382.6,255.2 L377.0,258.8"/><path d="M379.4,263.4 L391.4,263.4"/><path d="M385.4,263.4 L382.6,272.2 L382.0,275.0"/><path d="M339.4,244.4 L335.3,243.6 L329.7,243.6"/><path d="M332.8,246.7 L338.5,248.6 L341.3,251.4 L345.0,253.3 L346.9,258.1"/><path d="M351.6,247.6 L346.9,250.5"/></g>
<g stroke="#000" stroke-width="1.0" fill="#fff" stroke-linejoin="round"><path d="M350.2,196.2 L351.8,195.2 L353.7,195.4 L355.3,194.4 L357.2,194.1 L359.0,193.6 L360.7,192.2 L362.5,191.0 L362.4,189.1 L363.4,187.5 L364.2,186.1 L363.8,184.3 L365.1,183.1 L366.6,181.4 L368.6,180.5 L370.3,179.7 L372.1,179.6 L373.1,178.3 L374.7,177.9 L376.4,178.4 L378.2,177.9 L378.6,179.5 L380.0,180.2 L380.9,181.4 L382.4,183.0 L383.5,184.9 L384.9,186.6 L387.0,187.5 L388.0,189.1 L389.6,190.1 L391.4,191.0 L393.0,189.5 L394.5,189.5 L396.0,189.1 L397.2,190.7 L399.2,191.3 L400.8,192.4 L401.3,194.3 L402.5,195.7 L403.8,196.6 L404.7,197.9 L406.1,198.0 L406.9,196.8 L405.9,195.1 L406.7,193.0 L405.8,191.3 L407.1,190.1 L406.7,188.1 L408.0,186.9 L409.6,187.1 L410.9,186.2 L412.4,185.8 L412.4,187.6 L413.5,189.1 L412.8,190.6 L411.4,191.7 L411.3,193.5 L412.4,194.6 L414.2,194.0 L416.0,193.4 L417.9,193.5 L420.0,194.1 L422.1,194.9 L424.4,194.6 L425.8,193.9 L427.4,194.1 L428.8,193.5 L429.7,195.0 L429.9,196.8 L429.5,198.5 L428.8,200.0 L427.6,201.6 L426.6,203.3 L425.0,203.7 L423.7,204.8 L422.2,205.5 L420.4,204.9 L418.6,205.3 L416.8,205.5 L414.8,205.8 L413.2,204.6 L411.3,204.4 L409.4,204.5 L407.9,203.7 L406.4,202.7 L404.7,202.2 L403.3,203.1 L401.6,203.4 L400.3,204.4 L398.7,205.6 L397.0,206.6 L395.3,205.8 L393.4,205.8 L391.6,205.5 L390.6,203.9 L389.5,202.5 L388.3,201.1 L388.3,199.3 L388.3,197.5 L388.3,195.7 L386.5,195.8 L385.2,194.5 L383.5,193.6 L381.8,194.1 L380.0,193.6 L378.2,193.6 L376.4,193.7 L374.6,193.6 L372.9,193.4 L371.2,192.7 L369.1,192.7 L367.1,193.4 L365.1,193.6 L363.7,194.4 L362.1,194.0 L360.7,194.5 L359.4,195.5 L357.9,195.9 L356.4,196.2 L355.0,196.9 L353.4,196.5 L352.0,197.1Z"/><path d="M383.0,175.0 L384.5,174.8 L386.0,174.5 L388.0,175.3 L388.8,177.5 L390.8,178.3 L392.0,180.0 L393.6,181.0 L395.0,182.2 L395.8,184.0 L397.1,185.3 L398.5,186.5 L397.5,187.8 L396.0,188.5 L395.3,186.7 L393.5,186.0 L392.0,185.0 L391.5,183.0 L390.0,182.0 L388.6,180.6 L387.2,179.2 L385.9,177.7 L384.4,176.4Z"/><path d="M417.9,174.9 L419.3,174.4 L420.6,173.5 L422.2,173.8 L423.9,174.0 L425.5,173.3 L427.2,173.3 L428.8,172.7 L430.5,171.7 L432.5,171.9 L434.3,171.6 L435.6,173.4 L436.5,175.4 L437.3,177.4 L438.7,179.2 L438.7,180.8 L437.6,182.0 L437.6,183.6 L435.7,183.7 L434.1,185.0 L432.1,184.7 L430.3,183.9 L428.3,184.0 L426.3,184.2 L424.4,183.6 L422.1,183.4 L420.2,185.0 L417.9,184.7 L416.5,184.2 L415.1,183.5 L413.5,183.6 L414.2,182.2 L414.8,180.8 L414.6,179.2 L415.7,177.8 L417.3,176.7Z"/><path d="M450.6,175.7 L451.8,174.1 L453.9,174.1 L455.2,172.7 L457.3,172.8 L459.2,173.9 L461.3,174.2 L459.7,175.3 L459.3,177.3 L458.3,178.8 L457.1,180.1 L456.8,181.8 L458.1,183.1 L459.5,184.3 L461.3,184.9 L462.0,186.4 L461.3,188.0 L461.3,189.5 L459.7,190.3 L458.1,191.3 L456.8,192.6 L455.6,191.2 L453.7,191.0 L453.2,189.5 L453.7,187.9 L453.7,186.4 L453.4,184.8 L452.6,183.4 L452.2,181.8 L451.1,179.8 L449.1,178.8 L449.9,177.3Z"/><path d="M423.5,209.0 L425.0,208.9 L426.0,210.0 L426.8,211.9 L427.7,213.7 L428.7,215.4 L430.0,217.0 L431.1,218.9 L432.3,220.7 L432.9,222.9 L434.5,224.5 L435.4,226.5 L436.5,228.4 L437.5,230.4 L439.0,232.0 L440.7,233.4 L441.1,235.7 L442.1,237.5 L443.4,239.2 L444.3,241.1 L446.0,242.5 L444.5,244.0 L443.1,242.4 L442.3,240.4 L441.1,238.8 L439.8,237.1 L438.3,235.7 L437.0,234.0 L435.9,232.3 L435.3,230.2 L433.3,229.0 L432.5,227.0 L431.1,225.3 L429.8,223.5 L429.6,221.1 L428.0,219.5 L427.7,217.6 L426.3,216.1 L425.6,214.3 L425.4,212.3 L424.4,210.7Z"/><path d="M449.9,208.9 L451.4,209.3 L452.8,209.9 L453.6,211.7 L455.4,212.5 L456.7,213.8 L458.3,213.9 L459.5,215.0 L460.7,215.8 L462.3,215.3 L463.9,214.6 L465.6,214.8 L467.0,216.4 L468.6,217.7 L467.5,218.5 L466.5,219.5 L464.6,218.7 L462.9,220.0 L461.7,221.7 L459.8,220.6 L457.7,220.7 L456.4,219.4 L455.8,217.7 L454.5,216.8 L453.7,215.5 L452.9,213.7 L452.1,212.0 L451.1,210.4Z"/><path d="M337.2,214.7 L339.3,214.2 L341.4,215.4 L343.5,214.7 L345.6,215.2 L345.6,216.7 L343.7,217.5 L341.6,216.3 L339.7,217.1 L339.9,219.3 L338.4,221.3 L338.7,223.5 L338.0,224.8 L336.7,225.5 L335.1,226.1 L333.4,225.2 L331.8,226.0 L331.6,224.6 L330.8,223.5 L332.1,222.1 L331.5,220.0 L332.8,218.6 L334.4,217.5 L335.7,215.9Z"/><path d="M560.0,157.9 L560.7,156.1 L561.9,154.6 L563.0,153.0 L564.8,152.4 L566.0,151.0 L567.5,150.0 L566.2,151.2 L566.0,153.0 L564.2,154.2 L563.2,156.2 L562.0,157.9Z"/><path d="M176.0,155.0 L177.4,154.7 L178.5,155.5 L179.8,156.9 L180.0,158.8 L180.4,160.6 L181.6,162.0 L180.2,161.5 L179.0,162.5 L178.6,160.5 L176.8,159.0 L177.3,156.6Z"/><path d="M128.0,117.5 L130.0,117.3 L131.9,116.3 L134.0,116.5 L135.9,117.3 L137.8,118.1 L140.0,118.0 L138.9,119.3 L137.3,119.9 L136.0,121.0 L134.4,120.3 L132.7,119.8 L131.0,119.5 L129.4,118.7Z"/><path d="M142.0,130.5 L144.0,130.2 L146.1,130.4 L148.0,129.5 L150.0,129.0 L151.8,129.0 L153.2,130.1 L154.8,130.9 L156.5,131.0 L155.1,132.3 L153.0,132.0 L151.6,133.3 L150.0,134.0 L148.1,133.9 L146.2,133.4 L144.5,132.5 L142.9,132.0Z"/><path d="M427.0,118.0 L428.7,118.7 L430.5,118.9 L432.4,118.5 L434.1,119.5 L436.0,119.0 L437.6,119.7 L439.1,120.4 L440.0,122.0 L438.2,122.6 L436.8,123.7 L435.8,125.4 L434.0,126.0 L432.2,125.2 L430.3,124.5 L429.0,123.0 L428.4,121.3 L427.7,119.6Z"/><path d="M188.8,171.6 L190.6,170.5 L192.4,169.5 L194.1,168.3 L195.4,166.6 L197.1,166.8 L198.8,167.3 L200.6,167.4 L202.1,168.3 L200.9,169.3 L200.0,170.6 L198.8,171.6 L197.1,171.7 L195.5,172.7 L193.8,173.1 L192.1,173.3 L190.6,172.2Z"/><path d="M197.1,173.5 L198.3,173.0 L199.5,173.5 L200.0,175.6 L199.6,177.8 L199.8,180.0 L198.9,180.9 L198.3,182.0 L197.0,180.2 L196.8,178.0 L196.8,176.5 L196.9,175.0Z"/><path d="M203.8,173.3 L205.5,173.6 L207.3,173.5 L208.7,174.8 L210.4,174.9 L211.0,176.7 L212.1,178.2 L210.6,179.6 L208.7,180.4 L207.1,181.6 L206.7,179.7 L205.4,178.2 L205.2,176.5 L203.6,175.2Z"/><path d="M205.4,183.2 L207.0,182.3 L208.6,181.5 L210.6,181.7 L212.2,180.8 L213.7,179.9 L215.5,179.7 L216.8,178.1 L218.7,178.2 L216.8,179.2 L215.7,181.1 L214.0,182.3 L212.1,183.2 L210.4,183.3 L208.8,183.0 L207.1,183.6Z"/></g>
<g stroke="#C8C8FF" stroke-width="1.2" fill="none" opacity="0.9"><path d="M51.3,48 L51.3,391"/><path d="M79.5,48 L79.5,391"/><path d="M107.6,48 L107.6,391"/><path d="M135.8,48 L135.8,391"/><path d="M163.9,48 L163.9,391"/><path d="M192.1,48 L192.1,391"/><path d="M220.2,48 L220.2,391"/><path d="M248.4,48 L248.4,391"/><path d="M276.5,48 L276.5,391"/><path d="M304.7,48 L304.7,391"/><path d="M332.8,48 L332.8,391"/><path d="M361.0,48 L361.0,391"/><path d="M389.1,48 L389.1,391"/><path d="M417.3,48 L417.3,391"/><path d="M445.5,48 L445.5,391"/><path d="M473.6,48 L473.6,391"/><path d="M501.8,48 L501.8,391"/><path d="M529.9,48 L529.9,391"/><path d="M558.1,48 L558.1,391"/><path d="M586.2,48 L586.2,391"/><path d="M614.4,48 L614.4,391"/><path d="M642.5,48 L642.5,391"/><path d="M670.7,48 L670.7,391"/><path d="M698.8,48 L698.8,391"/><path d="M9,89.7 L713,89.7"/><path d="M9,138.2 L713,138.2"/><path d="M9,176.5 L713,176.5"/><path d="M9,209.2 L713,209.2"/><path d="M9,239.0 L713,239.0"/><path d="M9,267.5 L713,267.5"/><path d="M9,296.0 L713,296.0"/><path d="M9,325.8 L713,325.8"/><path d="M9,358.5 L713,358.5"/></g>
<g fill="#222"><rect x="58.9" y="224.7" width="1.3" height="1.3"/><rect x="61.8" y="225.6" width="1.3" height="1.3"/><rect x="64.1" y="228.8" width="1.3" height="1.3"/><rect x="68.5" y="230.9" width="1.3" height="1.3"/><rect x="69.8" y="230.5" width="1.3" height="1.3"/><rect x="81.6" y="296.2" width="1.3" height="1.3"/><rect x="87.1" y="297.0" width="1.3" height="1.3"/><rect x="90.0" y="296.7" width="1.3" height="1.3"/><rect x="92.6" y="301.6" width="1.3" height="1.3"/><rect x="93.1" y="302.4" width="1.3" height="1.3"/><rect x="97.4" y="304.1" width="1.3" height="1.3"/><rect x="99.7" y="306.2" width="1.3" height="1.3"/><rect x="103.2" y="307.5" width="1.3" height="1.3"/><rect x="108.5" y="310.6" width="1.3" height="1.3"/><rect x="89.7" y="297.7" width="1.3" height="1.3"/><rect x="94.5" y="300.3" width="1.3" height="1.3"/><rect x="97.2" y="300.9" width="1.3" height="1.3"/><rect x="102.6" y="302.4" width="1.3" height="1.3"/><rect x="34.4" y="273.6" width="1.3" height="1.3"/><rect x="36.0" y="274.2" width="1.3" height="1.3"/><rect x="38.9" y="275.6" width="1.3" height="1.3"/><rect x="18.4" y="296.7" width="1.3" height="1.3"/><rect x="25.0" y="301.3" width="1.3" height="1.3"/><rect x="17.5" y="305.8" width="1.3" height="1.3"/><rect x="21.5" y="307.0" width="1.3" height="1.3"/><rect x="24.2" y="312.7" width="1.3" height="1.3"/><rect x="23.5" y="315.4" width="1.3" height="1.3"/><rect x="25.7" y="319.1" width="1.3" height="1.3"/><rect x="116.2" y="311.6" width="1.3" height="1.3"/><rect x="117.6" y="311.6" width="1.3" height="1.3"/><rect x="633.1" y="228.5" width="1.3" height="1.3"/><rect x="633.5" y="230.2" width="1.3" height="1.3"/><rect x="634.2" y="233.9" width="1.3" height="1.3"/><rect x="633.9" y="236.8" width="1.3" height="1.3"/><rect x="634.3" y="241.0" width="1.3" height="1.3"/><rect x="619.9" y="248.9" width="1.3" height="1.3"/><rect x="625.3" y="250.0" width="1.3" height="1.3"/><rect x="631.2" y="248.9" width="1.3" height="1.3"/><rect x="637.7" y="250.3" width="1.3" height="1.3"/><rect x="642.6" y="253.2" width="1.3" height="1.3"/><rect x="648.7" y="251.0" width="1.3" height="1.3"/><rect x="652.9" y="253.4" width="1.3" height="1.3"/><rect x="660.1" y="254.9" width="1.3" height="1.3"/><rect x="665.9" y="241.6" width="1.3" height="1.3"/><rect x="666.9" y="246.1" width="1.3" height="1.3"/><rect x="671.4" y="248.7" width="1.3" height="1.3"/><rect x="673.5" y="254.7" width="1.3" height="1.3"/><rect x="676.6" y="256.1" width="1.3" height="1.3"/><rect x="639.3" y="270.7" width="1.3" height="1.3"/><rect x="642.6" y="271.6" width="1.3" height="1.3"/><rect x="648.5" y="274.2" width="1.3" height="1.3"/><rect x="649.7" y="279.9" width="1.3" height="1.3"/><rect x="655.9" y="280.0" width="1.3" height="1.3"/><rect x="658.7" y="285.1" width="1.3" height="1.3"/><rect x="664.8" y="286.3" width="1.3" height="1.3"/><rect x="670.6" y="292.5" width="1.3" height="1.3"/><rect x="673.0" y="295.7" width="1.3" height="1.3"/><rect x="672.1" y="301.4" width="1.3" height="1.3"/><rect x="674.4" y="302.4" width="1.3" height="1.3"/><rect x="677.4" y="306.9" width="1.3" height="1.3"/><rect x="692.6" y="298.5" width="1.3" height="1.3"/><rect x="697.6" y="300.0" width="1.3" height="1.3"/><rect x="699.3" y="299.8" width="1.3" height="1.3"/><rect x="698.8" y="302.6" width="1.3" height="1.3"/><rect x="704.7" y="304.0" width="1.3" height="1.3"/><rect x="706.8" y="306.5" width="1.3" height="1.3"/><rect x="707.9" y="310.7" width="1.3" height="1.3"/><rect x="647.0" y="301.9" width="1.3" height="1.3"/><rect x="649.9" y="304.3" width="1.3" height="1.3"/><rect x="653.4" y="311.8" width="1.3" height="1.3"/><rect x="465.6" y="274.8" width="1.3" height="1.3"/><rect x="494.3" y="286.7" width="1.3" height="1.3"/><rect x="465.4" y="306.7" width="1.3" height="1.3"/><rect x="468.5" y="305.8" width="1.3" height="1.3"/><rect x="443.5" y="291.5" width="1.3" height="1.3"/><rect x="496.4" y="253.7" width="1.3" height="1.3"/><rect x="498.0" y="259.7" width="1.3" height="1.3"/><rect x="499.3" y="262.6" width="1.3" height="1.3"/><rect x="456.4" y="293.7" width="1.3" height="1.3"/><rect x="458.5" y="299.5" width="1.3" height="1.3"/><rect x="234.2" y="232.1" width="1.3" height="1.3"/><rect x="236.3" y="235.4" width="1.3" height="1.3"/><rect x="237.4" y="239.8" width="1.3" height="1.3"/><rect x="238.1" y="241.8" width="1.3" height="1.3"/><rect x="241.6" y="246.4" width="1.3" height="1.3"/><rect x="240.6" y="204.2" width="1.3" height="1.3"/><rect x="209.8" y="214.8" width="1.3" height="1.3"/><rect x="213.9" y="216.1" width="1.3" height="1.3"/><rect x="216.3" y="221.0" width="1.3" height="1.3"/><rect x="230.8" y="240.4" width="1.3" height="1.3"/><rect x="234.8" y="236.2" width="1.3" height="1.3"/><rect x="237.8" y="234.8" width="1.3" height="1.3"/><rect x="320.6" y="226.9" width="1.3" height="1.3"/><rect x="320.3" y="231.2" width="1.3" height="1.3"/><rect x="355.7" y="210.4" width="1.3" height="1.3"/><rect x="361.1" y="212.5" width="1.3" height="1.3"/><rect x="305.0" y="186.5" width="1.3" height="1.3"/><rect x="310.4" y="185.8" width="1.3" height="1.3"/><rect x="315.8" y="189.3" width="1.3" height="1.3"/><rect x="338.8" y="315.1" width="1.3" height="1.3"/><rect x="342.0" y="317.2" width="1.3" height="1.3"/><rect x="151.3" y="246.9" width="1.3" height="1.3"/><rect x="152.3" y="250.9" width="1.3" height="1.3"/><rect x="188.1" y="267.9" width="1.3" height="1.3"/><rect x="191.6" y="267.4" width="1.3" height="1.3"/></g>
<path d="M9,158.8 L20,158 L30,157.6 L41,156.8 M684,156.5 L695,158.5 L713,159" stroke="#000" stroke-width="1.8" stroke-dasharray="2.5 3" fill="none"/>
<path d="M9,158.8 L20,158 L30,157.6 L41,156.8" stroke="#F7D708" stroke-width="0.7" stroke-dasharray="2.5 3" fill="none"/>
<path d="M684,156.5 L695,158.5 L713,159" stroke="#FF6600" stroke-width="0.7" stroke-dasharray="2.5 3" fill="none"/>
</g>
<rect x="9.5" y="48.5" width="703.5" height="342.5" fill="none" stroke="#000" stroke-width="1.6"/>
</svg>
<div class="t hy" style="left:210px;top:18px;">GSM World Coverage Map and GSM Country List.</div>
<div class="t hy" style="left:69px;top:33px;">View Map of <span class="b">5G field testing and trials World Coverage</span></div>
<div class="t hy" style="left:426px;top:33px;">View Map of <span class="b">4G LTE World Coverage</span></div>
<div class="t hy" style="left:144px;top:396.5px;">GSM (Groupe Special Mobile) - <span style="font-size:12.3px">Global System for Mobile communications -</span></div>
<div class="t hy" style="left:212px;top:412.5px;font-size:12.45px">most popular standard for mobile phones in the world.</div>
<div class="t hy" style="left:65px;top:426.3px;font-size:12.45px"><b style="color:#9933ff;font-size:11.6px;letter-spacing:0.55px">GSM 900 / GSM 1800 MHz</b> are used in most parts of the world: Europe, Asia, Australia, Middle East, Africa.</div>
<div class="t hy" style="left:61px;top:439.6px;font-size:12.42px"><b style="color:#ff9933;font-size:11.6px;letter-spacing:0.55px">GSM 850 / GSM 1900 MHz</b> are used in the United States, Canada, Mexico and most countries of S. America.</div>

<div class="lg" style="left:22px;top:356px;width:192px;height:30px;"></div>
<div class="s" style="left:36px;top:359px;font-size:10.4px;-webkit-text-stroke:0.35px #222;">GSM World Coverage map</div>
<div class="s" style="left:23.5px;top:371px;font-size:15.5px;-webkit-text-stroke:0.2px #222;">&#169;</div>
<div class="s" style="left:37px;top:372px;font-size:10.5px;-webkit-text-stroke:0.35px #222;">WorldTimeZone.com<span style="font-size:9.6px;margin-left:2px">All Rights</span> <span style="font-size:9.4px">reserved</span></div>

<div class="lg2" style="left:323px;top:368px;width:287px;height:19px;"></div>
<div class="sw" style="left:332px;top:374px;width:25px;height:8px;background:#FF6600;"></div>
<div class="s" style="left:363px;top:374px;font-size:10.1px;-webkit-text-stroke:0.3px #222;">GSM 900 / 1800 MHz</div>
<div class="sw" style="left:480px;top:374px;width:25px;height:8px;background:#F7D708;"></div>
<div class="s" style="left:511px;top:374px;font-size:10px;-webkit-text-stroke:0.3px #222;">GSM 850 / 1900 Mhz</div>

<div class="dl" style="left:11.8px;top:289px;transform:rotate(-90deg) scaleX(0.99);-webkit-text-stroke:0.25px #000;">International Date Line</div>
<div class="dl" style="left:688px;top:289.5px;transform:rotate(-90deg) scaleX(0.99);-webkit-text-stroke:0.25px #000;">International Date Line</div>
</body></html>
